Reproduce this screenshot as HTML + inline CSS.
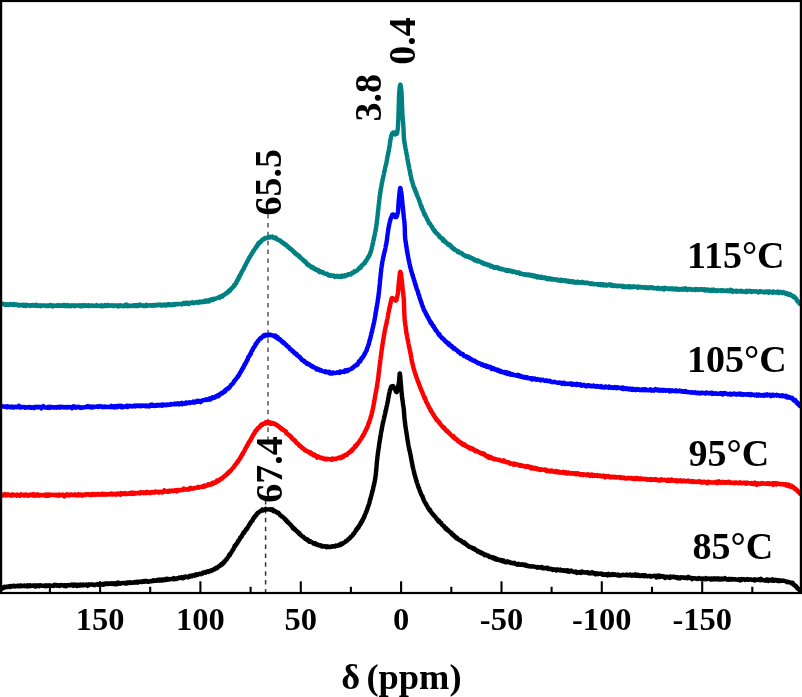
<!DOCTYPE html>
<html><head><meta charset="utf-8"><style>
html,body{margin:0;padding:0;background:#fff;}
svg{display:block;}
text{font-family:"Liberation Serif","Times New Roman",serif;font-weight:bold;fill:#000;}
.tl{font-size:32.5px;}
.big{font-size:38px;}
.ax{font-size:36.4px;}
</style></head><body>
<svg width="802" height="697" viewBox="0 0 802 697" xmlns="http://www.w3.org/2000/svg">
<rect x="0" y="0" width="802" height="697" fill="#fff"/>
<line x1="268" y1="214" x2="268" y2="440" stroke="#555" stroke-width="1.5" stroke-dasharray="4.5 4.4"/>
<line x1="265.6" y1="500" x2="265.6" y2="592" stroke="#333" stroke-width="1.5" stroke-dasharray="4.5 4.4"/>
<path d="M1.5,303.5 2.0,303.8 2.4,303.7 2.9,303.7 3.4,304.0 3.9,303.9 4.4,304.4 4.9,304.9 5.4,304.3 5.9,304.3 6.4,304.7 6.9,304.7 7.4,304.7 7.8,304.3 8.3,304.7 8.8,305.0 9.3,304.3 9.8,304.6 10.3,304.1 10.8,304.4 11.3,304.2 11.8,304.8 12.3,304.4 12.8,305.0 13.3,305.0 13.8,304.9 14.3,304.1 14.8,304.8 15.3,305.0 15.8,305.1 16.3,304.5 16.8,304.9 17.3,304.7 17.8,304.8 18.3,305.5 18.8,304.8 19.3,305.1 19.8,305.5 20.3,305.0 20.8,305.1 21.3,305.2 21.8,305.2 22.3,304.8 22.8,305.3 23.3,305.7 23.8,304.7 24.3,305.6 24.8,305.3 25.3,305.1 25.8,306.0 26.3,305.6 26.8,304.9 27.3,305.4 27.8,305.5 28.3,305.3 28.8,305.6 29.3,305.3 29.8,305.6 30.3,305.9 30.8,305.2 31.3,305.5 31.8,305.3 32.3,305.5 32.8,305.0 33.3,305.3 33.8,305.4 34.3,305.8 34.8,305.9 35.3,305.0 35.8,305.2 36.3,305.7 36.8,304.8 37.3,305.4 37.8,305.5 38.3,306.0 38.8,305.8 39.3,305.5 39.8,305.4 40.3,305.5 40.8,306.1 41.3,305.4 41.8,305.5 42.3,305.7 42.8,305.6 43.3,305.6 43.8,305.2 44.3,305.6 44.8,305.5 45.3,306.1 45.8,305.9 46.3,305.6 46.8,305.9 47.3,305.5 47.8,306.0 48.3,305.7 48.8,305.9 49.3,305.2 49.8,305.8 50.3,305.1 50.8,305.0 51.3,305.6 51.8,305.4 52.3,305.7 52.8,306.5 53.3,305.4 53.8,305.5 54.3,305.8 54.8,305.9 55.3,305.6 55.8,305.6 56.3,305.9 56.8,305.9 57.3,305.3 57.8,305.7 58.3,305.7 58.8,305.3 59.3,305.8 59.8,305.4 60.3,306.0 60.8,305.8 61.3,305.7 61.8,305.5 62.3,305.7 62.8,305.0 63.3,305.3 63.8,305.8 64.3,305.0 64.8,306.0 65.3,305.1 65.8,306.0 66.3,305.4 66.8,306.0 67.3,305.7 67.8,305.2 68.3,306.1 68.8,306.2 69.3,305.7 69.8,305.6 70.3,305.6 70.8,305.4 71.3,306.1 71.8,305.5 72.3,305.7 72.8,305.4 73.3,305.5 73.8,305.3 74.3,306.1 74.8,305.6 75.3,306.0 75.8,305.7 76.3,305.5 76.8,305.6 77.3,305.5 77.8,305.7 78.3,305.6 78.8,305.6 79.3,305.2 79.8,305.4 80.3,306.3 80.8,305.5 81.3,305.3 81.8,305.8 82.3,306.2 82.8,305.2 83.3,305.6 83.8,305.5 84.3,305.1 84.8,305.9 85.3,305.7 85.8,305.7 86.3,305.4 86.8,305.8 87.3,305.5 87.8,305.6 88.3,305.3 88.8,305.2 89.3,306.1 89.8,305.5 90.3,305.8 90.8,305.6 91.3,305.5 91.8,305.5 92.3,305.9 92.8,305.5 93.3,305.6 93.8,305.6 94.3,306.0 94.8,305.9 95.3,305.8 95.8,305.4 96.3,305.1 96.8,306.0 97.3,306.0 97.8,305.6 98.3,305.8 98.8,305.9 99.3,305.9 99.8,305.9 100.3,305.5 100.8,306.2 101.3,305.2 101.8,305.9 102.3,305.8 102.8,305.9 103.3,306.3 103.8,306.1 104.3,305.2 104.8,305.0 105.3,305.9 105.8,305.3 106.3,305.6 106.8,306.0 107.3,305.1 107.8,304.9 108.3,305.8 108.8,305.7 109.3,305.6 109.8,305.7 110.3,305.4 110.8,305.2 111.3,305.7 111.8,305.4 112.3,305.2 112.8,305.9 113.3,305.7 113.8,305.9 114.3,305.4 114.8,305.6 115.3,305.5 115.8,305.5 116.3,305.9 116.8,305.5 117.3,306.0 117.8,306.0 118.3,306.5 118.8,305.4 119.3,306.2 119.8,305.8 120.3,305.8 120.8,305.3 121.3,305.7 121.8,306.1 122.3,305.8 122.8,305.9 123.3,305.7 123.8,306.2 124.3,305.8 124.8,305.1 125.3,305.6 125.8,305.1 126.3,304.7 126.8,305.6 127.3,306.3 127.8,305.8 128.3,305.4 128.8,305.4 129.3,306.1 129.8,305.8 130.3,305.7 130.8,305.7 131.3,305.7 131.8,306.0 132.3,305.9 132.8,305.7 133.3,305.3 133.8,305.8 134.3,305.4 134.8,306.0 135.3,305.2 135.8,305.6 136.3,305.6 136.8,305.1 137.3,306.2 137.8,306.1 138.3,305.4 138.8,305.8 139.3,305.7 139.8,304.6 140.3,305.6 140.8,305.5 141.3,305.5 141.8,305.1 142.3,305.4 142.8,305.4 143.3,305.9 143.8,305.6 144.3,305.4 144.8,306.0 145.3,305.2 145.8,305.3 146.3,304.8 146.8,305.9 147.3,305.7 147.8,305.7 148.3,305.6 148.8,305.4 149.3,305.4 149.8,305.2 150.3,305.2 150.8,305.3 151.3,305.8 151.8,305.5 152.3,305.3 152.8,305.1 153.3,305.0 153.8,305.8 154.3,305.4 154.8,305.2 155.3,305.1 155.8,304.8 156.3,305.2 156.8,305.5 157.3,305.0 157.8,305.1 158.3,305.0 158.8,305.1 159.3,304.5 159.8,305.0 160.3,304.8 160.8,305.4 161.3,304.8 161.8,305.2 162.3,305.5 162.8,304.9 163.3,304.7 163.8,305.0 164.3,304.9 164.8,304.5 165.3,305.0 165.8,305.6 166.3,304.7 166.8,304.7 167.3,304.4 167.8,304.9 168.3,304.3 168.8,304.3 169.3,305.1 169.8,304.3 170.3,305.0 170.8,305.1 171.3,304.6 171.8,304.7 172.3,305.2 172.8,304.4 173.3,304.2 173.8,303.9 174.3,304.4 174.8,304.9 175.3,304.6 175.8,303.9 176.3,303.9 176.8,304.0 177.3,304.3 177.8,304.1 178.3,304.2 178.8,304.1 179.3,303.9 179.8,304.0 180.3,304.0 180.8,303.9 181.3,304.0 181.8,304.5 182.3,304.0 182.8,303.7 183.3,303.1 183.8,303.8 184.3,302.9 184.8,303.0 185.3,303.8 185.8,303.7 186.3,303.3 186.8,302.7 187.2,303.2 187.7,303.0 188.2,303.4 188.7,304.0 189.2,303.2 189.7,302.8 190.2,302.6 190.7,303.0 191.2,302.9 191.7,302.5 192.2,302.9 192.7,302.4 193.2,303.2 193.7,303.1 194.2,303.1 194.7,302.5 195.2,302.8 195.7,302.5 196.2,302.4 196.7,302.4 197.2,302.0 197.7,301.9 198.2,302.6 198.7,302.2 199.2,302.3 199.7,302.5 200.2,301.5 200.7,301.7 201.2,302.0 201.7,302.0 202.2,301.7 202.7,302.1 203.1,301.7 203.6,301.1 204.1,301.2 204.6,301.7 205.1,301.5 205.6,300.5 206.1,301.6 206.6,301.2 207.1,301.4 207.6,300.7 208.0,300.6 208.5,300.2 209.0,301.4 209.5,300.3 210.0,300.8 210.5,299.9 211.0,300.1 211.4,299.3 211.9,299.7 212.4,300.0 212.9,299.1 213.4,299.8 213.9,299.4 214.3,298.8 214.8,298.8 215.3,298.7 215.8,298.7 216.2,298.4 216.7,298.1 217.2,298.1 217.7,297.7 218.1,297.5 218.6,297.7 219.0,297.9 219.5,296.8 219.9,297.2 220.4,296.7 220.8,296.4 221.3,296.8 221.7,296.1 222.2,296.6 222.6,295.6 223.0,295.7 223.5,295.3 223.9,294.8 224.3,295.0 224.7,294.5 225.1,294.5 225.5,294.0 225.9,293.3 226.3,293.4 226.7,293.1 227.1,293.1 227.5,292.2 227.9,292.2 228.3,291.3 228.7,291.8 229.0,290.8 229.4,290.3 229.8,290.5 230.1,290.6 230.5,289.3 230.8,289.1 231.2,288.9 231.5,288.4 231.9,288.6 232.2,287.8 232.5,287.5 232.8,287.5 233.2,286.7 233.5,286.7 233.8,285.8 234.1,285.4 234.4,284.7 234.7,285.6 234.9,284.5 235.2,284.3 235.5,283.7 235.8,283.4 236.0,282.9 236.3,283.2 236.5,281.7 236.8,281.1 237.0,280.9 237.3,280.3 237.5,280.6 237.8,280.2 238.0,279.1 238.2,278.5 238.5,278.5 238.7,278.6 238.9,276.7 239.1,277.4 239.4,276.4 239.6,276.7 239.8,275.5 240.1,275.4 240.3,274.5 240.5,274.2 240.7,274.6 241.0,274.0 241.2,273.1 241.4,272.5 241.7,271.7 241.9,271.8 242.1,271.5 242.3,271.0 242.6,270.5 242.8,269.7 243.0,269.7 243.3,269.2 243.5,269.3 243.7,269.0 244.0,267.9 244.2,267.2 244.4,267.0 244.7,266.4 244.9,265.9 245.1,265.7 245.4,264.9 245.6,265.0 245.8,264.3 246.1,264.0 246.3,263.4 246.5,262.8 246.8,262.3 247.0,262.1 247.3,261.6 247.5,261.4 247.7,260.9 248.0,260.0 248.2,260.0 248.5,259.1 248.7,258.9 248.9,258.6 249.2,257.5 249.4,257.8 249.7,257.4 249.9,256.9 250.2,256.4 250.4,256.0 250.7,255.3 250.9,255.1 251.2,254.6 251.5,254.4 251.7,253.5 252.0,253.6 252.2,253.1 252.5,252.6 252.8,252.1 253.0,252.0 253.3,250.8 253.6,251.1 253.8,250.6 254.1,250.2 254.4,249.8 254.6,249.0 254.9,248.8 255.2,248.7 255.5,248.2 255.7,247.7 256.0,246.7 256.3,247.0 256.6,246.8 256.9,246.3 257.2,245.7 257.5,244.6 257.8,245.1 258.1,244.3 258.4,243.1 258.7,243.8 259.0,242.7 259.3,242.4 259.7,242.3 260.0,242.6 260.3,241.7 260.7,241.5 261.0,241.7 261.4,241.3 261.7,240.4 262.1,240.1 262.5,239.4 262.9,239.4 263.3,239.5 263.7,239.2 264.1,238.9 264.5,239.0 264.9,238.1 265.3,238.2 265.7,238.3 266.2,238.1 266.6,238.1 267.1,237.8 267.5,237.4 268.0,237.5 268.4,237.0 268.9,236.7 269.3,237.5 269.8,237.2 270.3,237.4 270.7,236.7 271.2,237.2 271.7,237.1 272.2,237.1 272.6,236.7 273.1,237.5 273.6,238.0 274.0,238.0 274.5,237.8 274.9,238.1 275.4,238.5 275.8,237.5 276.3,238.6 276.7,239.0 277.2,239.3 277.6,239.8 278.1,239.9 278.5,239.8 278.9,240.0 279.3,240.5 279.8,240.2 280.2,240.7 280.6,241.3 281.0,241.9 281.4,241.5 281.8,241.8 282.2,242.2 282.6,242.9 283.0,242.7 283.4,243.5 283.8,243.0 284.2,243.6 284.6,243.9 285.0,244.5 285.3,244.9 285.7,244.3 286.1,244.9 286.5,245.6 286.9,245.6 287.3,245.6 287.7,246.8 288.0,247.0 288.4,247.3 288.8,247.3 289.2,248.1 289.6,248.0 289.9,248.8 290.3,248.4 290.7,248.7 291.1,249.4 291.5,249.4 291.9,250.3 292.2,250.4 292.6,250.3 293.0,251.0 293.4,251.2 293.7,252.0 294.1,251.8 294.5,252.1 294.9,253.1 295.3,253.7 295.6,254.0 296.0,253.6 296.4,254.0 296.8,254.8 297.1,254.6 297.5,254.6 297.9,255.3 298.3,255.8 298.6,255.6 299.0,255.7 299.4,256.1 299.7,257.2 300.1,257.0 300.5,257.6 300.9,258.0 301.2,258.5 301.6,258.5 302.0,259.1 302.3,259.0 302.7,259.5 303.1,259.6 303.4,260.7 303.8,260.6 304.2,260.7 304.6,261.2 304.9,261.6 305.3,262.2 305.7,261.7 306.0,262.3 306.4,262.8 306.8,264.2 307.2,263.9 307.6,263.9 308.0,264.5 308.3,265.3 308.7,264.8 309.1,265.0 309.5,265.9 309.9,266.0 310.3,266.3 310.7,266.2 311.1,267.3 311.5,267.5 311.9,267.4 312.4,267.7 312.8,267.1 313.2,268.3 313.6,268.2 314.0,268.7 314.5,269.0 314.9,268.9 315.3,268.7 315.8,269.7 316.2,269.5 316.6,269.9 317.1,270.0 317.5,270.4 318.0,269.9 318.4,271.3 318.9,271.2 319.3,271.7 319.8,272.2 320.2,271.8 320.7,271.3 321.1,271.8 321.6,271.9 322.1,272.4 322.5,272.8 323.0,272.2 323.4,273.2 323.9,272.8 324.4,273.6 324.8,273.6 325.3,273.7 325.8,273.9 326.3,273.9 326.7,274.1 327.2,273.8 327.7,274.6 328.2,275.4 328.6,275.5 329.1,275.4 329.6,275.3 330.1,275.0 330.6,275.8 331.0,275.4 331.5,275.5 332.0,275.5 332.5,275.8 333.0,275.7 333.5,275.9 334.0,275.6 334.5,275.9 335.0,276.9 335.5,276.2 335.9,276.1 336.4,276.5 336.9,276.6 337.4,275.9 337.9,276.3 338.4,276.7 338.9,276.5 339.4,276.4 339.9,276.9 340.4,276.1 340.9,276.4 341.4,276.1 341.9,276.8 342.3,275.5 342.8,275.9 343.3,275.9 343.8,276.2 344.3,276.1 344.8,276.3 345.3,275.2 345.7,275.9 346.2,275.4 346.7,275.1 347.2,275.4 347.6,274.8 348.1,274.2 348.6,274.6 349.0,274.1 349.5,274.2 350.0,274.4 350.4,274.2 350.9,274.4 351.3,273.6 351.8,272.9 352.2,273.0 352.7,272.7 353.1,272.4 353.5,272.7 354.0,272.1 354.4,271.4 354.8,272.0 355.2,271.5 355.6,271.4 356.0,271.0 356.4,270.9 356.8,270.4 357.2,270.6 357.6,270.0 358.0,269.6 358.4,269.3 358.8,268.4 359.1,268.5 359.5,268.1 359.9,268.0 360.2,267.1 360.6,267.8 360.9,266.9 361.3,266.1 361.6,265.5 362.0,265.7 362.3,265.4 362.6,264.8 363.0,264.7 363.3,264.1 363.6,264.1 363.9,263.3 364.2,263.1 364.6,263.1 364.9,263.3 365.2,261.6 365.5,261.4 365.8,260.9 366.1,261.1 366.4,260.0 366.7,259.8 367.0,259.6 367.2,258.9 367.5,258.5 367.8,258.2 368.0,257.2 368.3,257.0 368.5,257.0 368.8,256.7 369.0,256.2 369.2,255.2 369.4,255.2 369.6,255.2 369.8,254.7 370.0,254.0 370.2,253.2 370.3,253.3 370.5,252.4 370.7,251.8 370.8,251.4 370.9,251.7 371.1,250.8 371.2,250.7 371.3,249.6 371.5,249.6 371.6,248.6 371.7,248.3 371.8,248.7 371.9,247.6 372.0,246.7 372.1,246.4 372.2,246.0 372.4,245.8 372.5,244.8 372.6,243.8 372.7,243.9 372.8,243.5 372.9,243.0 373.0,243.0 373.1,242.1 373.2,241.8 373.3,240.6 373.4,240.8 373.5,240.8 373.6,239.8 373.7,239.2 373.9,238.6 374.0,238.7 374.1,237.3 374.2,237.1 374.3,236.8 374.4,236.4 374.5,235.5 374.6,235.3 374.7,234.6 374.8,234.2 374.9,233.7 375.0,232.8 375.1,232.7 375.2,232.5 375.3,231.4 375.4,231.2 375.5,231.0 375.6,229.9 375.7,229.8 375.7,228.9 375.8,229.2 375.9,229.1 376.0,228.5 376.1,227.2 376.2,227.1 376.2,226.4 376.3,225.9 376.4,225.9 376.5,224.4 376.5,224.7 376.6,223.8 376.7,223.9 376.7,222.9 376.8,222.1 376.9,222.0 376.9,221.6 377.0,220.9 377.0,220.6 377.1,219.7 377.2,218.6 377.2,219.2 377.3,218.6 377.3,218.0 377.4,217.4 377.5,217.3 377.5,216.3 377.6,215.7 377.6,215.4 377.7,215.3 377.7,213.9 377.8,214.3 377.8,213.2 377.9,212.5 377.9,212.9 378.0,211.9 378.0,211.0 378.1,210.8 378.2,210.8 378.2,210.4 378.3,209.3 378.3,209.1 378.4,208.7 378.4,207.7 378.5,207.6 378.5,207.0 378.6,206.3 378.6,205.8 378.7,205.5 378.7,205.0 378.8,204.3 378.8,203.8 378.9,203.9 378.9,203.1 379.0,202.8 379.1,202.4 379.1,201.7 379.2,201.8 379.2,200.2 379.3,200.3 379.4,199.4 379.4,199.7 379.5,199.1 379.5,197.3 379.6,197.2 379.7,197.3 379.7,196.8 379.8,196.3 379.9,195.5 379.9,195.2 380.0,194.8 380.1,194.0 380.2,193.9 380.2,192.3 380.3,192.8 380.4,191.7 380.5,191.9 380.5,191.0 380.6,190.3 380.7,190.2 380.8,189.3 380.9,188.8 380.9,188.1 381.0,188.1 381.1,187.8 381.2,187.5 381.3,186.6 381.4,186.5 381.5,185.7 381.6,185.2 381.6,184.9 381.7,184.6 381.8,183.6 381.9,183.1 382.0,182.7 382.1,182.3 382.2,181.4 382.3,181.6 382.4,180.6 382.5,180.4 382.6,179.5 382.7,179.4 382.8,178.9 382.9,178.2 383.0,178.5 383.1,177.5 383.2,177.5 383.3,176.7 383.5,175.6 383.6,175.3 383.7,175.1 383.8,174.4 383.9,173.9 384.0,173.3 384.1,172.3 384.2,172.4 384.3,171.2 384.5,171.6 384.6,170.8 384.7,170.3 384.8,170.0 384.9,169.6 385.0,168.6 385.1,168.0 385.2,167.7 385.3,166.9 385.4,166.8 385.5,167.2 385.6,165.8 385.7,165.9 385.9,164.7 386.0,164.8 386.1,164.1 386.2,163.7 386.3,163.4 386.4,163.3 386.5,162.3 386.6,161.8 386.7,160.9 386.7,160.9 386.8,160.2 386.9,160.1 387.0,159.3 387.1,159.4 387.2,157.6 387.3,157.7 387.4,157.6 387.5,156.7 387.6,156.1 387.7,155.7 387.8,154.9 387.9,154.9 388.0,155.2 388.1,154.3 388.2,153.0 388.3,152.6 388.4,152.3 388.5,152.3 388.6,151.1 388.7,150.7 388.8,150.8 388.9,150.3 389.0,149.3 389.1,148.6 389.2,147.9 389.3,147.7 389.3,146.7 389.4,147.3 389.5,146.3 389.6,146.2 389.6,146.2 389.7,145.4 389.8,144.1 389.9,144.3 389.9,143.9 390.0,142.8 390.1,142.2 390.1,142.0 390.2,141.0 390.3,141.6 390.4,139.7 390.4,139.7 390.5,139.5 390.6,139.0 390.7,138.7 390.8,138.2 390.9,137.5 391.0,137.5 391.1,135.9 391.2,136.2 391.4,135.4 391.5,135.3 391.7,134.8 391.9,134.0 392.1,133.6 392.3,133.7 392.6,133.2 393.0,132.6 393.5,133.5 393.9,133.6 394.4,132.5 394.8,133.3 395.2,134.4 395.7,134.0 396.1,134.0 396.5,134.0 396.8,133.7 397.0,133.5 397.1,132.9 397.2,132.9 397.3,132.0 397.4,131.5 397.5,130.7 397.5,130.6 397.6,129.8 397.7,129.6 397.7,129.5 397.8,128.8 397.8,128.3 397.9,127.8 397.9,127.2 398.0,126.6 398.0,126.1 398.0,125.9 398.1,124.8 398.1,125.1 398.1,124.2 398.1,123.4 398.1,123.0 398.2,122.4 398.2,122.2 398.2,121.4 398.2,121.6 398.2,120.4 398.3,119.4 398.3,119.4 398.3,118.5 398.3,118.7 398.3,118.5 398.4,117.9 398.4,116.7 398.4,116.4 398.4,116.8 398.4,115.8 398.5,115.2 398.5,115.0 398.5,115.0 398.5,114.1 398.5,113.2 398.5,112.8 398.6,112.4 398.6,111.5 398.6,110.8 398.6,110.7 398.6,109.9 398.6,109.7 398.7,109.2 398.7,109.5 398.7,107.9 398.7,107.6 398.7,107.1 398.7,106.8 398.7,106.6 398.8,105.5 398.8,104.9 398.8,104.1 398.8,103.9 398.8,103.9 398.8,103.2 398.8,102.3 398.9,102.1 398.9,101.7 398.9,101.4 398.9,100.5 398.9,100.1 398.9,99.1 398.9,98.8 399.0,99.3 399.0,97.4 399.0,97.6 399.0,97.3 399.0,96.6 399.0,95.9 399.1,95.7 399.1,95.2 399.1,94.7 399.1,93.5 399.2,93.6 399.2,92.9 399.2,92.5 399.3,92.3 399.3,91.9 399.3,91.5 399.4,90.5 399.4,90.5 399.5,90.1 399.5,89.6 399.6,89.2 399.6,88.2 399.7,87.7 399.7,87.5 399.8,86.2 399.9,86.3 400.0,85.6 400.1,85.2 400.3,84.6 400.5,85.0 400.6,85.7 400.7,86.5 400.8,87.0 400.9,87.1 400.9,87.6 401.0,87.9 401.1,88.8 401.1,89.1 401.2,89.9 401.2,90.8 401.3,90.6 401.3,90.6 401.4,91.3 401.4,91.6 401.5,92.2 401.5,93.6 401.5,93.7 401.6,93.6 401.6,94.9 401.6,95.6 401.7,95.5 401.7,95.9 401.7,96.5 401.7,97.2 401.8,97.8 401.8,98.5 401.8,99.0 401.8,99.5 401.8,100.1 401.9,100.4 401.9,100.1 401.9,101.1 401.9,101.7 401.9,102.0 401.9,102.9 402.0,103.0 402.0,103.3 402.0,104.6 402.0,104.9 402.0,105.2 402.1,105.9 402.1,106.5 402.1,106.7 402.1,106.3 402.1,107.4 402.1,108.0 402.2,108.3 402.2,109.2 402.2,110.0 402.2,109.9 402.2,110.2 402.3,111.8 402.3,111.5 402.3,111.7 402.3,112.7 402.4,113.3 402.4,113.4 402.4,114.4 402.4,114.4 402.5,114.8 402.5,115.7 402.5,116.4 402.6,116.4 402.6,117.2 402.7,117.6 402.7,119.1 402.7,118.4 402.8,119.6 402.8,119.6 402.9,120.0 402.9,120.8 403.0,121.4 403.0,122.0 403.1,122.2 403.1,122.4 403.2,122.9 403.2,123.8 403.2,124.3 403.3,125.1 403.3,125.2 403.3,125.9 403.4,126.6 403.4,126.6 403.4,126.6 403.5,127.2 403.5,127.6 403.5,129.1 403.5,128.8 403.6,130.0 403.6,130.3 403.6,131.2 403.6,131.4 403.6,131.5 403.7,132.0 403.7,132.6 403.7,133.1 403.7,133.4 403.7,134.1 403.7,135.1 403.8,134.5 403.8,135.7 403.8,135.7 403.8,136.6 403.9,137.4 403.9,137.5 403.9,138.3 404.0,138.0 404.0,139.4 404.1,139.3 404.1,140.3 404.2,140.6 404.3,140.1 404.3,141.3 404.4,142.1 404.5,143.1 404.6,143.1 404.7,143.6 404.8,143.5 404.9,145.0 404.9,145.6 405.0,145.5 405.1,145.9 405.2,145.9 405.3,147.2 405.4,148.4 405.5,148.2 405.6,148.9 405.7,149.1 405.8,149.1 405.9,150.4 405.9,150.0 406.0,150.8 406.1,151.5 406.2,152.2 406.3,152.5 406.4,153.0 406.5,153.1 406.5,153.4 406.6,154.3 406.7,154.6 406.8,154.9 406.9,155.4 407.0,156.1 407.1,156.1 407.1,156.8 407.2,157.2 407.3,158.3 407.4,158.9 407.5,159.9 407.6,159.2 407.7,160.0 407.8,161.0 407.9,161.1 408.0,161.6 408.0,162.8 408.1,162.6 408.2,162.8 408.3,163.2 408.4,164.3 408.5,164.8 408.6,164.7 408.7,165.3 408.8,166.3 408.9,166.8 409.0,166.9 409.1,167.8 409.2,168.3 409.3,167.9 409.4,169.0 409.5,169.7 409.6,169.8 409.7,169.8 409.8,170.9 409.9,171.8 410.0,172.6 410.1,171.7 410.2,173.9 410.3,173.1 410.4,174.3 410.5,174.9 410.6,175.3 410.7,175.5 410.8,175.5 410.9,176.6 411.0,176.6 411.1,176.5 411.2,178.9 411.3,178.6 411.4,179.5 411.6,179.0 411.7,180.3 411.8,180.9 411.9,181.3 412.1,181.3 412.2,181.3 412.3,182.2 412.5,181.9 412.6,182.6 412.8,183.7 412.9,183.8 413.1,184.5 413.2,185.0 413.4,186.2 413.5,186.5 413.7,186.5 413.9,187.4 414.1,187.1 414.2,187.8 414.4,188.7 414.6,188.4 414.8,189.2 415.0,189.3 415.1,190.3 415.3,191.2 415.5,190.9 415.7,191.7 415.9,191.7 416.1,192.1 416.3,192.6 416.5,194.0 416.6,194.7 416.8,194.6 417.0,194.6 417.2,195.6 417.4,195.7 417.5,196.5 417.7,196.8 417.9,197.3 418.1,197.9 418.2,197.9 418.4,198.4 418.6,198.5 418.8,199.4 418.9,199.5 419.1,200.4 419.3,200.6 419.5,201.4 419.6,202.0 419.8,201.8 420.0,202.5 420.1,202.9 420.3,204.0 420.5,204.8 420.7,205.0 420.8,205.0 421.0,206.1 421.2,205.6 421.4,207.1 421.6,206.8 421.7,206.5 421.9,208.9 422.1,209.0 422.3,208.5 422.5,209.4 422.7,209.7 422.9,210.3 423.1,210.2 423.3,210.9 423.5,211.8 423.7,212.2 423.9,213.0 424.1,213.0 424.3,214.3 424.5,213.7 424.7,214.4 424.9,214.1 425.1,214.8 425.4,216.2 425.6,215.8 425.8,216.8 426.0,217.0 426.3,217.1 426.5,217.8 426.7,218.2 427.0,218.6 427.2,219.5 427.4,219.9 427.7,219.9 427.9,220.2 428.2,221.1 428.4,221.4 428.7,222.2 428.9,223.2 429.2,223.0 429.4,223.1 429.7,223.5 430.0,223.7 430.2,224.1 430.5,224.5 430.8,225.1 431.1,225.5 431.3,226.3 431.6,226.4 431.9,226.8 432.2,226.9 432.5,228.3 432.8,228.3 433.0,229.2 433.3,229.2 433.6,229.9 433.9,229.7 434.2,230.4 434.5,231.5 434.8,230.5 435.1,231.7 435.5,232.3 435.8,232.3 436.1,232.8 436.4,233.3 436.7,233.0 437.0,233.8 437.4,233.7 437.7,234.2 438.0,234.5 438.4,235.1 438.7,235.6 439.1,236.0 439.4,235.7 439.7,237.3 440.1,237.3 440.4,237.5 440.8,237.5 441.2,237.9 441.5,238.5 441.9,238.8 442.3,238.4 442.6,239.6 443.0,240.7 443.4,239.3 443.7,240.7 444.1,240.8 444.5,241.0 444.9,241.8 445.2,241.2 445.6,242.0 446.0,242.8 446.4,242.6 446.7,242.8 447.1,243.3 447.5,243.4 447.9,244.5 448.3,243.9 448.7,244.9 449.0,244.4 449.4,245.5 449.8,245.5 450.2,244.9 450.6,246.2 451.0,246.1 451.4,246.6 451.8,247.6 452.1,247.0 452.5,247.3 452.9,248.5 453.3,248.4 453.7,249.2 454.1,249.0 454.5,248.9 454.9,249.5 455.4,250.2 455.8,250.4 456.2,250.3 456.6,250.6 457.0,250.8 457.4,251.0 457.8,252.1 458.3,251.7 458.7,251.5 459.1,252.0 459.5,252.7 460.0,253.0 460.4,252.9 460.8,253.0 461.3,253.5 461.7,253.1 462.2,253.5 462.6,254.5 463.0,254.2 463.5,254.8 463.9,255.3 464.4,255.3 464.8,255.3 465.3,256.3 465.7,256.0 466.2,255.9 466.6,256.5 467.1,256.6 467.5,256.3 468.0,256.9 468.4,257.0 468.9,256.5 469.3,257.4 469.8,257.6 470.2,257.7 470.7,257.5 471.2,258.1 471.6,258.4 472.1,258.7 472.5,258.4 473.0,259.3 473.5,258.8 473.9,259.4 474.4,260.1 474.8,259.6 475.3,259.8 475.8,260.6 476.2,260.3 476.7,260.5 477.1,260.9 477.6,261.4 478.1,260.4 478.5,261.1 479.0,261.2 479.5,261.3 479.9,261.6 480.4,261.8 480.9,262.4 481.3,262.1 481.8,262.7 482.3,262.9 482.7,262.7 483.2,263.2 483.7,263.9 484.1,263.6 484.6,263.4 485.1,263.8 485.5,263.7 486.0,264.3 486.5,264.6 487.0,264.2 487.4,264.6 487.9,265.2 488.4,264.8 488.8,265.2 489.3,265.0 489.8,265.2 490.3,265.5 490.7,266.6 491.2,265.8 491.7,266.0 492.1,266.1 492.6,266.4 493.1,266.9 493.6,266.9 494.0,267.7 494.5,267.2 495.0,267.8 495.5,267.5 495.9,267.8 496.4,267.2 496.9,267.8 497.4,268.0 497.9,268.0 498.3,267.5 498.8,268.7 499.3,268.4 499.8,268.5 500.3,268.7 500.7,268.8 501.2,269.2 501.7,268.7 502.2,269.0 502.7,269.5 503.2,269.6 503.7,269.5 504.1,269.6 504.6,269.6 505.1,270.0 505.6,270.5 506.1,269.9 506.6,270.9 507.1,270.8 507.5,270.4 508.0,271.0 508.5,270.3 509.0,270.3 509.5,270.6 510.0,271.0 510.5,271.1 511.0,271.2 511.4,271.5 511.9,270.8 512.4,271.9 512.9,271.3 513.4,271.7 513.9,271.9 514.4,271.7 514.9,271.7 515.4,272.0 515.8,272.4 516.3,272.7 516.8,272.8 517.3,272.4 517.8,272.6 518.3,272.6 518.8,273.2 519.3,272.5 519.8,273.7 520.2,273.2 520.7,273.2 521.2,273.7 521.7,274.0 522.2,273.9 522.7,274.3 523.2,274.0 523.7,274.5 524.2,274.6 524.6,274.3 525.1,274.9 525.6,274.5 526.1,274.6 526.6,274.4 527.1,274.7 527.6,275.2 528.1,274.5 528.6,275.3 529.1,275.3 529.6,275.4 530.0,274.6 530.5,275.4 531.0,275.8 531.5,275.4 532.0,275.8 532.5,275.0 533.0,276.1 533.5,275.8 534.0,276.4 534.5,275.5 535.0,276.5 535.5,276.3 535.9,276.7 536.4,276.2 536.9,276.4 537.4,277.5 537.9,276.5 538.4,276.6 538.9,276.9 539.4,276.7 539.9,277.5 540.4,277.8 540.9,277.0 541.4,276.8 541.9,277.9 542.3,277.9 542.8,277.9 543.3,278.1 543.8,277.5 544.3,277.8 544.8,277.5 545.3,277.5 545.8,278.5 546.3,278.0 546.8,279.1 547.3,278.4 547.8,278.2 548.3,278.8 548.8,279.2 549.3,278.9 549.7,278.3 550.2,279.0 550.7,279.4 551.2,278.8 551.7,278.8 552.2,279.5 552.7,279.3 553.2,278.9 553.7,279.3 554.2,279.2 554.7,279.7 555.2,279.7 555.7,280.1 556.2,280.0 556.7,279.3 557.2,280.1 557.7,280.3 558.1,280.2 558.6,280.5 559.1,280.0 559.6,279.9 560.1,280.7 560.6,280.0 561.1,279.7 561.6,280.9 562.1,280.3 562.6,280.5 563.1,280.2 563.6,280.3 564.1,280.4 564.6,280.8 565.1,281.1 565.6,280.2 566.1,281.3 566.6,280.7 567.1,280.8 567.6,281.4 568.1,281.2 568.6,280.8 569.1,282.0 569.6,281.1 570.1,281.5 570.6,281.6 571.1,282.0 571.6,281.4 572.1,282.0 572.6,281.4 573.0,282.1 573.5,281.5 574.0,281.7 574.5,282.6 575.0,282.0 575.5,282.0 576.0,282.8 576.5,282.2 577.0,281.8 577.5,282.4 578.0,281.8 578.5,282.7 579.0,282.7 579.5,282.2 580.0,282.2 580.5,282.5 581.0,282.5 581.5,282.2 582.0,282.8 582.5,281.9 583.0,282.6 583.5,282.6 584.0,282.7 584.5,283.0 585.0,282.5 585.5,283.2 586.0,283.0 586.5,282.8 587.0,282.6 587.5,282.8 588.0,283.3 588.5,282.9 589.0,283.3 589.5,283.7 590.0,283.8 590.5,284.0 591.0,283.4 591.5,283.2 592.0,284.0 592.5,283.8 593.0,284.1 593.4,283.8 593.9,284.2 594.4,284.2 594.9,284.2 595.4,284.1 595.9,284.1 596.4,284.1 596.9,284.2 597.4,284.5 597.9,284.0 598.4,284.8 598.9,284.2 599.4,284.7 599.9,284.3 600.4,284.3 600.9,285.2 601.4,284.4 601.9,284.1 602.4,284.3 602.9,284.5 603.4,285.4 603.9,284.8 604.4,285.1 604.9,284.5 605.4,285.0 605.9,285.1 606.4,285.6 606.9,284.7 607.4,285.2 607.9,285.2 608.4,284.7 608.9,285.1 609.4,285.1 609.9,284.4 610.4,285.5 610.9,285.5 611.4,285.2 611.9,284.9 612.4,285.9 612.9,285.6 613.4,285.9 613.9,286.0 614.4,285.4 614.9,285.9 615.4,285.6 615.9,285.7 616.4,285.7 616.9,285.8 617.4,286.2 617.9,285.9 618.4,285.8 618.9,285.8 619.4,286.1 619.9,285.7 620.4,285.8 620.9,286.0 621.4,285.9 621.9,286.1 622.3,285.9 622.8,286.9 623.3,286.7 623.8,286.4 624.3,286.3 624.8,287.1 625.3,286.5 625.8,286.4 626.3,286.5 626.8,286.6 627.3,287.0 627.8,286.5 628.3,287.3 628.8,286.3 629.3,286.9 629.8,286.3 630.3,287.3 630.8,286.6 631.3,286.7 631.8,287.1 632.3,287.3 632.8,286.5 633.3,286.8 633.8,286.4 634.3,287.0 634.8,286.9 635.3,286.9 635.8,286.8 636.3,286.9 636.8,286.8 637.3,287.3 637.8,287.7 638.3,286.5 638.8,287.2 639.3,287.1 639.8,287.4 640.3,287.0 640.8,287.3 641.3,287.0 641.8,287.6 642.3,287.5 642.8,287.4 643.3,287.6 643.8,287.4 644.3,287.0 644.8,287.8 645.3,287.7 645.8,287.5 646.3,288.0 646.8,288.1 647.3,287.3 647.8,287.4 648.3,288.3 648.8,288.2 649.3,287.5 649.8,287.4 650.3,287.6 650.8,287.7 651.3,287.3 651.8,287.9 652.3,287.5 652.8,287.5 653.3,288.3 653.8,287.8 654.3,288.0 654.8,288.3 655.3,288.4 655.8,288.0 656.3,288.1 656.8,287.9 657.3,288.8 657.8,288.4 658.3,287.8 658.8,288.3 659.3,288.5 659.8,288.5 660.3,289.0 660.8,288.8 661.3,288.2 661.8,288.4 662.3,288.0 662.8,288.6 663.3,288.6 663.8,289.5 664.3,288.6 664.8,287.9 665.3,288.4 665.8,288.7 666.3,288.2 666.8,288.4 667.3,288.6 667.8,288.9 668.3,288.7 668.8,288.5 669.3,289.1 669.8,288.7 670.3,288.7 670.8,288.5 671.3,288.7 671.8,289.2 672.3,288.4 672.8,289.0 673.3,289.3 673.8,288.9 674.3,289.2 674.8,288.7 675.3,289.6 675.8,289.5 676.3,289.2 676.8,288.6 677.3,288.8 677.8,289.5 678.3,289.8 678.8,289.3 679.3,289.7 679.8,289.0 680.3,289.2 680.8,289.2 681.3,289.4 681.8,288.7 682.3,289.6 682.8,289.7 683.3,288.8 683.8,288.8 684.3,289.4 684.8,289.0 685.3,288.4 685.8,289.5 686.3,289.3 686.8,289.1 687.3,290.0 687.8,289.3 688.3,289.0 688.8,289.3 689.3,288.9 689.8,289.0 690.3,289.4 690.8,289.1 691.3,289.1 691.8,289.9 692.3,289.6 692.8,289.6 693.3,289.5 693.8,289.5 694.3,289.9 694.8,289.3 695.3,290.0 695.8,289.1 696.3,289.3 696.8,288.9 697.3,289.3 697.8,289.6 698.3,290.0 698.8,289.3 699.3,289.5 699.8,289.4 700.2,289.3 700.7,289.2 701.2,289.7 701.7,289.1 702.2,289.7 702.7,289.7 703.2,289.5 703.7,289.4 704.2,289.3 704.7,290.5 705.2,289.4 705.7,290.4 706.2,290.1 706.7,289.8 707.2,289.5 707.7,290.3 708.2,290.6 708.7,289.7 709.2,289.9 709.7,290.4 710.2,290.2 710.7,290.8 711.2,289.9 711.7,290.4 712.2,289.7 712.7,290.9 713.2,290.0 713.7,289.5 714.2,290.2 714.7,290.2 715.2,291.0 715.7,290.2 716.2,290.4 716.7,290.6 717.2,291.0 717.7,290.4 718.2,290.8 718.7,290.6 719.2,290.4 719.7,290.5 720.2,290.5 720.7,290.2 721.2,291.0 721.7,290.1 722.2,291.0 722.7,291.0 723.2,290.6 723.7,290.4 724.2,290.6 724.7,290.9 725.2,291.0 725.7,290.8 726.2,291.1 726.7,290.6 727.2,290.9 727.7,290.3 728.2,291.1 728.7,290.9 729.2,290.7 729.7,291.3 730.2,291.1 730.7,289.9 731.2,290.9 731.7,290.4 732.2,291.3 732.7,291.9 733.2,290.8 733.7,291.0 734.2,290.9 734.7,291.2 735.2,291.3 735.7,291.5 736.2,290.8 736.7,291.7 737.2,290.8 737.7,291.2 738.2,291.6 738.7,291.4 739.2,290.9 739.7,291.0 740.2,291.1 740.7,291.2 741.2,291.7 741.7,290.8 742.2,291.4 742.7,291.5 743.2,291.5 743.7,291.5 744.2,291.9 744.7,291.5 745.2,291.7 745.7,291.6 746.2,292.0 746.7,290.7 747.2,291.9 747.7,291.3 748.2,291.3 748.7,291.1 749.2,290.8 749.7,291.4 750.2,291.3 750.7,291.7 751.2,291.0 751.7,292.0 752.2,291.6 752.7,291.5 753.2,291.3 753.7,291.3 754.2,291.2 754.7,291.4 755.2,291.6 755.7,291.6 756.2,291.2 756.7,291.6 757.2,291.4 757.7,291.7 758.2,292.4 758.7,291.9 759.2,291.6 759.7,291.2 760.2,291.3 760.7,291.2 761.2,292.0 761.7,291.5 762.2,291.8 762.7,291.6 763.2,291.9 763.7,292.3 764.2,291.6 764.7,291.7 765.2,291.6 765.7,292.2 766.2,291.5 766.7,291.5 767.2,291.4 767.7,291.4 768.2,292.1 768.7,292.9 769.2,291.6 769.7,292.3 770.2,292.1 770.7,291.6 771.2,291.9 771.7,292.0 772.2,291.8 772.7,292.8 773.2,291.4 773.7,292.2 774.2,292.2 774.7,291.9 775.2,292.2 775.7,292.5 776.2,292.3 776.7,292.4 777.2,292.5 777.7,291.6 778.2,292.8 778.7,293.1 779.2,292.7 779.7,292.8 780.2,291.9 780.7,292.4 781.2,292.2 781.7,292.4 782.2,293.0 782.6,292.4 783.1,292.7 783.6,292.2 784.1,292.9 784.6,293.1 785.1,292.9 785.5,293.0 786.0,294.0 786.5,293.1 787.0,293.3 787.4,293.5 787.9,294.3 788.4,294.8 788.8,294.3 789.3,294.1 789.8,294.3 790.2,295.0 790.7,294.5 791.1,295.5 791.6,295.7 792.0,295.5 792.4,295.9 792.9,296.3 793.3,296.8 793.7,296.2 794.0,297.3 794.4,297.1 794.8,297.3 795.1,298.0 795.5,298.2 795.8,298.3 796.1,298.5 796.4,299.1 796.8,300.3 797.1,300.9 797.4,300.8 797.7,301.4 798.0,301.2 798.3,301.8 798.6,302.3 798.8,302.3 799.1,302.7 799.4,303.5 799.6,303.8 799.9,304.0" fill="none" stroke="#008080" stroke-width="4.4" stroke-linejoin="round" stroke-linecap="round"/>
<path d="M1.5,406.1 2.0,406.0 2.5,406.6 2.9,406.4 3.4,406.4 3.9,406.7 4.4,406.6 4.9,406.5 5.4,406.6 5.9,407.1 6.4,407.0 6.9,407.3 7.4,406.3 7.9,406.7 8.4,406.7 8.9,407.0 9.4,406.8 9.9,406.8 10.4,407.2 10.9,407.0 11.4,406.6 11.9,407.5 12.4,407.4 12.9,406.8 13.4,407.3 13.9,406.8 14.4,407.4 14.9,407.0 15.4,406.8 15.9,407.0 16.4,406.8 16.9,407.2 17.4,407.2 17.9,407.1 18.4,406.9 18.9,405.8 19.4,407.2 19.9,406.5 20.4,407.2 20.9,407.5 21.4,407.3 21.9,407.0 22.4,407.1 22.9,407.1 23.4,407.0 23.9,407.0 24.4,406.9 24.9,407.6 25.4,407.2 25.9,407.5 26.4,407.1 26.9,407.2 27.4,407.1 27.9,407.4 28.4,407.5 28.9,407.3 29.4,407.0 29.9,406.9 30.4,407.8 30.9,407.1 31.4,407.1 31.9,407.7 32.4,407.6 32.9,407.4 33.4,407.1 33.9,408.1 34.4,407.4 34.9,407.4 35.4,407.2 35.9,406.8 36.4,406.8 36.9,407.4 37.4,407.4 37.9,407.2 38.4,406.9 38.9,406.8 39.4,407.2 39.9,406.8 40.4,407.6 40.9,407.7 41.4,408.3 41.9,407.6 42.4,407.1 42.9,407.0 43.4,406.1 43.9,407.1 44.4,407.2 44.9,407.6 45.4,407.5 45.9,407.5 46.4,407.4 46.9,407.5 47.4,407.8 47.9,406.9 48.4,407.1 48.9,406.8 49.4,407.9 49.9,407.7 50.4,407.6 50.9,406.9 51.4,407.4 51.9,407.2 52.4,407.3 52.9,407.2 53.4,407.5 53.9,407.2 54.4,407.6 54.9,407.4 55.4,407.2 55.9,407.3 56.4,407.1 56.9,407.6 57.4,407.2 57.9,407.4 58.4,407.2 58.9,406.8 59.4,407.6 59.9,406.9 60.4,407.5 60.9,407.4 61.4,406.7 61.9,406.9 62.4,407.1 62.9,407.0 63.4,406.9 63.9,407.5 64.4,407.2 64.9,407.4 65.4,407.1 65.9,407.4 66.4,407.0 66.9,407.3 67.4,407.5 67.9,407.3 68.4,407.1 68.9,406.9 69.4,407.3 69.9,407.4 70.4,407.2 70.9,407.0 71.4,407.4 71.9,408.1 72.4,407.1 72.9,407.3 73.4,407.4 73.9,406.3 74.4,407.3 74.9,407.0 75.4,407.7 75.9,407.1 76.4,406.9 76.9,407.1 77.4,407.3 77.9,407.0 78.4,407.2 78.9,406.7 79.4,407.1 79.9,407.4 80.4,407.9 80.9,407.4 81.4,407.2 81.9,407.6 82.4,407.5 82.9,407.7 83.4,407.5 83.9,407.1 84.4,407.2 84.9,407.2 85.4,407.2 85.9,407.1 86.4,406.8 86.9,406.3 87.4,406.8 87.9,406.3 88.4,407.1 88.9,407.0 89.4,406.4 89.9,407.2 90.4,407.3 90.9,407.0 91.4,407.5 91.9,407.6 92.4,406.5 92.9,407.3 93.4,407.1 93.9,407.1 94.4,407.2 94.9,406.6 95.4,406.7 95.9,406.6 96.4,406.6 96.9,406.8 97.4,406.3 97.9,406.5 98.4,407.0 98.9,406.8 99.4,406.9 99.9,406.1 100.4,406.5 100.9,406.6 101.4,406.8 101.9,406.5 102.4,407.1 102.9,406.7 103.4,406.7 103.9,406.7 104.4,407.0 104.9,406.5 105.4,407.1 105.9,406.9 106.4,406.8 106.9,406.7 107.4,406.9 107.9,407.0 108.4,407.0 108.9,406.8 109.4,407.0 109.9,406.7 110.4,407.1 110.9,406.7 111.4,405.9 111.9,407.1 112.4,406.7 112.9,406.2 113.4,406.6 113.9,406.3 114.4,407.4 114.9,406.8 115.4,406.1 115.9,406.8 116.4,406.5 116.9,407.3 117.4,406.2 117.9,405.8 118.4,406.6 118.9,406.5 119.4,406.4 119.9,405.8 120.4,406.7 120.9,407.1 121.4,405.9 121.9,406.9 122.4,406.3 122.9,407.3 123.4,406.6 123.9,406.4 124.4,406.8 124.9,406.6 125.4,406.2 125.9,406.6 126.4,406.2 126.9,405.7 127.4,407.1 127.9,406.2 128.4,406.1 128.9,406.4 129.4,405.7 129.9,405.8 130.4,406.0 130.9,406.0 131.4,406.2 131.9,406.5 132.4,406.0 132.9,406.3 133.4,406.3 133.9,405.7 134.4,406.1 134.9,405.7 135.4,406.4 135.9,406.1 136.4,406.0 136.9,405.5 137.4,406.0 137.9,405.6 138.4,406.1 138.9,405.8 139.4,405.6 139.9,406.2 140.4,406.1 140.9,405.6 141.4,406.2 141.9,405.7 142.4,405.6 142.9,405.8 143.4,405.5 143.9,405.6 144.4,405.6 144.9,406.2 145.4,406.2 145.9,405.6 146.4,406.2 146.9,405.6 147.4,405.8 147.9,405.9 148.4,405.7 148.9,406.4 149.4,405.7 149.9,405.1 150.4,406.0 150.9,405.4 151.4,405.4 151.9,404.5 152.4,405.9 152.9,405.8 153.4,405.8 153.9,405.8 154.4,406.0 154.9,405.4 155.4,405.7 155.9,405.1 156.4,405.3 156.9,405.7 157.4,405.5 157.9,404.9 158.4,405.4 158.9,405.2 159.4,405.0 159.9,405.4 160.4,405.1 160.9,404.7 161.4,404.8 161.9,405.8 162.4,404.6 162.9,405.2 163.4,405.3 163.9,405.3 164.4,404.6 164.9,404.9 165.4,405.0 165.9,405.2 166.4,404.6 166.8,404.4 167.3,405.1 167.8,405.1 168.3,404.8 168.8,404.4 169.3,404.8 169.8,404.6 170.3,404.8 170.8,404.0 171.3,404.5 171.8,404.3 172.3,404.0 172.8,404.4 173.3,404.3 173.8,404.1 174.3,404.3 174.8,403.6 175.3,404.0 175.8,404.2 176.3,404.1 176.8,404.3 177.3,403.4 177.8,403.3 178.3,403.8 178.8,403.9 179.3,404.4 179.8,403.8 180.3,403.3 180.8,403.8 181.3,403.2 181.8,402.9 182.3,404.3 182.8,403.4 183.3,403.5 183.8,403.4 184.3,403.8 184.8,403.2 185.3,403.5 185.8,402.6 186.3,402.4 186.8,403.4 187.2,403.3 187.7,402.9 188.2,402.8 188.7,402.7 189.2,402.3 189.7,403.0 190.2,402.7 190.7,402.6 191.2,402.4 191.7,402.6 192.2,402.4 192.7,402.4 193.2,401.6 193.7,402.2 194.2,402.7 194.7,401.7 195.2,401.7 195.7,402.0 196.2,402.0 196.7,401.8 197.2,400.9 197.7,401.6 198.1,400.9 198.6,401.0 199.1,401.4 199.6,401.0 200.1,401.3 200.6,402.1 201.1,401.1 201.6,401.0 202.1,400.4 202.6,400.4 203.1,400.1 203.6,400.2 204.1,400.0 204.5,400.0 205.0,400.1 205.5,399.7 206.0,399.4 206.5,399.3 207.0,399.9 207.5,399.6 207.9,399.8 208.4,399.7 208.9,399.1 209.4,399.3 209.9,398.4 210.3,399.6 210.8,399.0 211.3,398.4 211.8,397.9 212.2,398.3 212.7,397.3 213.1,397.5 213.6,397.9 214.1,397.4 214.5,397.1 215.0,397.4 215.4,396.5 215.9,396.7 216.3,396.2 216.8,395.9 217.2,396.1 217.7,395.4 218.1,396.2 218.5,395.1 219.0,395.7 219.4,394.4 219.8,394.7 220.3,393.8 220.7,393.5 221.1,393.8 221.5,393.7 221.9,392.7 222.4,393.3 222.8,392.4 223.2,392.4 223.6,392.2 224.0,392.0 224.4,390.8 224.8,391.7 225.2,391.1 225.6,390.4 225.9,389.9 226.3,389.3 226.7,389.1 227.1,389.5 227.5,388.8 227.8,388.2 228.2,388.1 228.6,388.5 228.9,387.5 229.3,387.0 229.6,387.4 230.0,386.7 230.3,386.2 230.7,385.6 231.0,384.9 231.3,384.7 231.7,384.6 232.0,384.3 232.3,384.1 232.6,383.8 233.0,383.3 233.3,382.9 233.6,382.1 233.9,381.3 234.2,381.5 234.5,380.9 234.8,380.6 235.1,380.4 235.4,379.6 235.7,379.3 236.0,379.2 236.3,378.9 236.6,378.2 236.8,378.2 237.1,377.5 237.4,376.8 237.7,376.8 237.9,377.0 238.2,375.7 238.5,375.9 238.7,375.6 239.0,375.2 239.3,374.0 239.5,374.5 239.8,373.4 240.1,372.9 240.3,372.5 240.6,372.3 240.8,371.7 241.1,371.2 241.3,371.3 241.6,370.1 241.8,369.6 242.1,369.8 242.3,369.3 242.6,369.0 242.8,367.8 243.1,368.2 243.3,367.5 243.6,367.5 243.8,366.0 244.0,366.1 244.3,365.5 244.5,364.6 244.8,364.5 245.0,364.7 245.2,363.7 245.5,363.1 245.7,363.3 245.9,362.9 246.2,362.4 246.4,361.3 246.6,361.2 246.9,361.1 247.1,360.1 247.3,359.6 247.6,359.7 247.8,359.5 248.0,358.1 248.2,357.2 248.5,357.1 248.7,356.8 248.9,356.7 249.2,356.5 249.4,355.8 249.6,355.2 249.9,355.0 250.1,354.2 250.3,354.1 250.6,353.4 250.8,354.1 251.0,353.0 251.3,352.0 251.5,351.5 251.7,351.3 252.0,350.4 252.2,350.3 252.5,349.9 252.7,350.0 252.9,349.1 253.2,348.5 253.4,347.9 253.7,347.5 253.9,347.5 254.2,347.0 254.4,347.0 254.7,346.0 254.9,346.1 255.2,345.4 255.4,344.9 255.7,343.8 255.9,343.6 256.2,343.9 256.5,343.7 256.7,342.9 257.0,342.7 257.3,341.9 257.6,341.5 257.9,341.0 258.2,341.2 258.5,340.6 258.8,340.0 259.1,339.6 259.4,339.5 259.8,339.1 260.1,338.3 260.4,338.9 260.8,338.1 261.2,337.7 261.5,337.9 261.9,337.5 262.3,336.8 262.7,336.8 263.1,336.0 263.5,335.9 263.9,335.2 264.3,336.2 264.8,334.9 265.2,335.7 265.7,335.0 266.1,334.8 266.6,335.0 267.0,335.1 267.5,335.2 267.9,335.5 268.4,335.0 268.9,335.2 269.3,334.7 269.8,335.1 270.3,335.0 270.7,334.8 271.2,335.0 271.6,335.2 272.1,335.4 272.5,335.6 273.0,335.4 273.4,335.4 273.9,336.1 274.3,335.5 274.8,336.0 275.2,337.0 275.6,335.7 276.0,336.7 276.4,337.4 276.9,336.9 277.3,338.6 277.7,337.1 278.1,338.8 278.5,339.1 278.9,339.2 279.2,339.1 279.6,339.6 280.0,339.4 280.4,340.3 280.8,340.0 281.2,340.6 281.5,341.4 281.9,341.0 282.3,341.5 282.7,342.1 283.1,341.9 283.4,343.1 283.8,343.1 284.2,342.8 284.6,343.6 284.9,343.7 285.3,344.1 285.7,344.7 286.0,344.7 286.4,345.6 286.8,345.4 287.2,346.3 287.5,346.3 287.9,346.9 288.3,346.8 288.7,347.1 289.0,347.2 289.4,348.2 289.8,348.6 290.1,349.4 290.5,349.4 290.9,349.4 291.2,349.6 291.6,350.1 292.0,350.3 292.3,351.2 292.7,351.3 293.1,351.1 293.5,351.5 293.8,352.5 294.2,352.5 294.6,352.6 294.9,353.5 295.3,353.3 295.7,353.6 296.0,353.9 296.4,353.7 296.8,355.0 297.1,354.7 297.5,355.2 297.9,355.5 298.2,356.3 298.6,356.4 299.0,356.8 299.4,356.5 299.7,357.4 300.1,357.2 300.5,358.2 300.9,358.5 301.2,358.7 301.6,359.8 302.0,359.6 302.4,359.9 302.8,360.1 303.1,360.3 303.5,361.0 303.9,361.4 304.3,360.8 304.7,362.0 305.1,362.1 305.5,362.5 305.9,362.7 306.3,362.4 306.7,362.7 307.1,364.0 307.5,363.8 307.9,363.5 308.3,364.4 308.7,364.4 309.2,364.1 309.6,364.3 310.0,364.8 310.4,365.7 310.8,365.8 311.3,366.0 311.7,366.4 312.1,366.8 312.6,366.1 313.0,367.0 313.4,367.0 313.9,367.1 314.3,367.6 314.8,367.9 315.2,368.1 315.7,367.9 316.1,368.4 316.6,369.5 317.1,368.6 317.5,368.6 318.0,369.5 318.4,369.8 318.9,369.9 319.4,369.5 319.8,370.4 320.3,370.0 320.8,370.0 321.2,370.3 321.7,370.7 322.2,371.1 322.7,371.2 323.1,371.2 323.6,371.6 324.1,371.5 324.6,371.9 325.1,371.2 325.5,371.3 326.0,372.2 326.5,371.6 327.0,372.0 327.5,372.2 328.0,372.2 328.4,372.3 328.9,373.0 329.4,371.7 329.9,372.9 330.4,373.5 330.9,372.7 331.4,372.8 331.9,373.1 332.4,373.5 332.8,372.4 333.3,372.9 333.8,372.8 334.3,373.0 334.8,372.9 335.3,373.0 335.8,372.6 336.3,372.8 336.8,372.5 337.3,372.4 337.8,372.5 338.3,372.5 338.8,372.1 339.3,372.9 339.7,372.3 340.2,371.7 340.7,372.5 341.2,371.8 341.7,372.1 342.2,371.8 342.7,371.8 343.1,371.7 343.6,371.3 344.1,371.4 344.6,371.9 345.1,370.3 345.5,371.0 346.0,371.0 346.5,370.3 346.9,370.0 347.4,371.1 347.9,370.0 348.3,370.7 348.8,370.0 349.2,369.6 349.7,369.6 350.1,369.4 350.6,369.4 351.0,368.9 351.4,368.5 351.8,368.3 352.3,368.5 352.7,368.0 353.1,367.1 353.5,367.0 353.9,367.0 354.3,366.4 354.7,366.2 355.1,365.7 355.4,365.6 355.8,365.5 356.2,365.4 356.5,364.7 356.9,365.1 357.2,364.0 357.6,364.8 357.9,363.6 358.3,363.1 358.6,362.4 358.9,361.2 359.3,361.8 359.6,361.5 359.9,361.7 360.2,360.2 360.5,361.0 360.8,359.8 361.1,359.7 361.4,358.2 361.7,358.7 362.0,358.2 362.3,358.1 362.6,357.5 362.8,356.7 363.1,357.0 363.4,356.5 363.6,356.0 363.9,355.7 364.1,355.3 364.4,354.5 364.6,353.6 364.9,353.1 365.1,353.7 365.3,353.0 365.5,352.3 365.7,351.7 366.0,351.4 366.2,351.0 366.4,350.4 366.6,349.8 366.8,350.3 366.9,349.2 367.1,348.4 367.3,347.7 367.5,347.5 367.6,347.5 367.8,347.1 368.0,346.2 368.1,345.9 368.3,345.3 368.4,344.5 368.6,344.9 368.7,344.1 368.9,344.3 369.0,342.7 369.1,342.5 369.3,342.3 369.4,341.5 369.5,340.6 369.6,340.2 369.8,340.1 369.9,339.7 370.0,339.1 370.1,339.0 370.3,338.5 370.4,337.8 370.5,337.2 370.6,336.6 370.7,336.4 370.9,336.0 371.0,335.3 371.1,334.9 371.2,334.2 371.3,333.3 371.5,332.9 371.6,333.1 371.7,332.5 371.8,332.4 371.9,331.4 372.0,331.2 372.2,330.8 372.3,330.2 372.4,329.2 372.5,328.9 372.6,328.5 372.7,327.6 372.8,327.6 373.0,327.3 373.1,326.3 373.2,326.7 373.3,325.4 373.4,325.0 373.5,324.5 373.6,323.8 373.7,323.7 373.8,323.1 374.0,323.2 374.1,322.3 374.2,321.8 374.3,321.0 374.4,320.1 374.5,320.1 374.6,319.4 374.6,319.5 374.7,318.7 374.8,318.8 374.9,317.9 375.0,317.5 375.1,316.8 375.2,316.3 375.3,315.9 375.3,315.6 375.4,314.5 375.5,314.4 375.6,314.7 375.6,313.2 375.7,312.7 375.8,312.0 375.9,311.3 376.0,311.7 376.0,310.8 376.1,310.4 376.2,310.5 376.3,310.2 376.4,308.5 376.5,308.7 376.5,308.1 376.6,307.5 376.7,307.0 376.8,306.4 376.9,306.4 377.0,305.6 377.1,305.0 377.1,304.8 377.2,304.2 377.3,303.6 377.4,303.0 377.5,303.0 377.6,302.1 377.7,301.4 377.7,300.6 377.8,300.3 377.9,299.6 378.0,299.5 378.0,299.1 378.1,297.8 378.2,298.0 378.3,297.7 378.3,297.1 378.4,296.2 378.5,296.4 378.5,295.3 378.6,294.6 378.7,294.1 378.7,294.0 378.8,293.9 378.8,293.4 378.9,292.6 379.0,291.6 379.0,291.3 379.1,290.7 379.1,290.5 379.2,289.4 379.2,289.6 379.3,289.3 379.3,288.5 379.4,288.2 379.4,287.2 379.5,286.6 379.5,286.3 379.6,286.5 379.6,285.9 379.7,284.9 379.7,285.0 379.8,284.0 379.8,284.1 379.8,283.2 379.9,282.4 379.9,282.4 380.0,281.3 380.0,280.8 380.1,280.1 380.1,280.2 380.2,279.6 380.2,279.1 380.3,278.5 380.3,278.6 380.4,277.5 380.4,276.9 380.5,277.0 380.5,276.6 380.6,275.7 380.6,274.5 380.7,274.4 380.7,274.3 380.8,273.6 380.8,273.7 380.9,272.2 380.9,272.4 381.0,271.4 381.1,271.6 381.1,270.6 381.2,270.5 381.2,269.4 381.3,268.7 381.4,268.3 381.4,268.0 381.5,267.3 381.6,267.6 381.6,267.1 381.7,266.3 381.8,265.3 381.8,265.2 381.9,264.5 382.0,264.7 382.1,263.8 382.2,263.4 382.2,262.6 382.3,261.5 382.4,261.5 382.5,260.9 382.6,260.9 382.7,260.3 382.8,259.5 382.9,259.2 383.0,259.3 383.1,258.0 383.2,257.5 383.3,257.3 383.4,256.6 383.5,256.2 383.6,256.1 383.7,256.0 383.8,254.3 384.0,254.4 384.1,253.9 384.2,253.4 384.3,252.9 384.4,252.4 384.5,252.3 384.7,251.3 384.8,251.0 384.9,250.5 385.0,250.1 385.1,249.5 385.2,249.4 385.3,248.6 385.4,248.2 385.5,247.6 385.6,246.8 385.7,246.3 385.8,245.8 385.9,245.7 386.0,244.9 386.1,244.3 386.2,244.3 386.3,243.9 386.4,242.6 386.5,243.3 386.5,242.2 386.6,241.7 386.7,241.6 386.8,240.7 386.8,240.0 386.9,240.5 387.0,238.9 387.0,238.7 387.1,238.5 387.1,237.4 387.2,237.2 387.3,236.9 387.3,237.1 387.4,235.5 387.5,235.3 387.5,235.0 387.6,234.3 387.6,233.4 387.7,233.4 387.8,232.8 387.9,232.5 387.9,232.2 388.0,231.7 388.1,231.0 388.2,230.4 388.2,229.5 388.3,229.3 388.4,228.9 388.5,228.2 388.6,227.9 388.6,227.1 388.7,227.4 388.8,227.1 388.9,225.8 389.0,225.6 389.1,224.8 389.2,224.9 389.3,224.1 389.4,223.5 389.6,222.9 389.7,222.5 389.8,221.7 389.9,221.8 390.0,220.8 390.2,220.7 390.3,220.1 390.4,220.0 390.6,219.1 390.7,219.0 390.9,217.8 391.1,217.9 391.3,217.2 391.5,216.9 391.7,216.4 392.0,216.2 392.2,214.8 392.6,215.4 393.0,214.6 393.5,215.7 393.9,214.8 394.3,215.4 394.7,215.4 395.1,217.0 395.4,216.3 395.7,217.1 396.1,217.0 396.4,216.5 396.6,216.7 396.8,216.6 396.9,215.8 397.1,215.7 397.2,214.8 397.3,214.4 397.4,213.8 397.5,213.6 397.7,213.6 397.8,212.6 397.9,212.1 398.0,211.3 398.0,210.8 398.1,211.0 398.2,209.6 398.2,209.2 398.2,209.0 398.2,208.4 398.3,208.7 398.3,206.7 398.3,207.2 398.3,206.8 398.4,205.6 398.4,205.3 398.4,205.2 398.4,205.1 398.5,203.7 398.5,203.0 398.5,203.4 398.6,203.1 398.6,201.9 398.7,200.8 398.7,201.5 398.8,200.5 398.8,200.4 398.8,199.5 398.9,198.9 399.0,198.4 399.0,198.6 399.1,198.1 399.1,196.3 399.2,196.2 399.2,196.7 399.3,195.4 399.3,194.6 399.4,194.6 399.4,194.0 399.5,193.5 399.5,192.9 399.6,192.5 399.6,191.9 399.7,191.7 399.7,190.8 399.8,190.5 399.8,190.0 399.9,190.1 399.9,189.2 400.0,188.6 400.1,188.4 400.2,188.0 400.4,188.2 400.6,188.3 400.7,189.2 400.8,189.5 400.9,189.5 400.9,189.9 401.0,190.8 401.1,191.2 401.1,191.5 401.2,191.5 401.2,191.9 401.3,193.1 401.4,193.8 401.4,194.3 401.5,194.0 401.5,195.3 401.6,195.3 401.7,196.1 401.7,196.6 401.8,196.7 401.8,197.3 401.9,197.2 401.9,198.1 402.0,198.3 402.1,199.6 402.1,200.0 402.2,200.8 402.2,201.1 402.3,201.2 402.3,202.1 402.3,202.3 402.4,203.1 402.4,203.5 402.5,203.6 402.5,204.4 402.6,204.9 402.6,205.3 402.7,206.2 402.7,207.0 402.8,206.8 402.8,207.3 402.9,207.1 402.9,208.4 403.0,208.7 403.0,208.6 403.1,210.0 403.1,210.6 403.2,210.6 403.2,211.3 403.3,211.5 403.3,212.6 403.4,212.3 403.4,213.3 403.5,214.6 403.6,214.4 403.6,215.0 403.7,215.3 403.7,215.5 403.7,216.3 403.8,217.0 403.8,217.0 403.9,218.0 404.0,218.8 404.0,219.2 404.1,218.8 404.1,219.5 404.2,219.8 404.3,221.2 404.3,221.5 404.4,222.1 404.4,222.0 404.5,222.4 404.5,223.3 404.5,223.9 404.6,224.0 404.6,224.9 404.6,225.5 404.7,225.9 404.7,225.9 404.7,226.1 404.7,227.2 404.8,227.9 404.8,228.2 404.8,228.7 404.8,229.1 404.8,230.1 404.8,230.3 404.8,230.8 404.8,231.0 404.9,231.6 404.9,232.4 404.9,232.5 404.9,232.9 404.9,233.7 404.9,234.7 404.9,234.9 405.0,235.8 405.0,235.8 405.0,236.2 405.1,236.3 405.1,237.1 405.1,238.3 405.2,238.4 405.2,239.0 405.3,239.5 405.4,239.8 405.4,240.2 405.5,240.8 405.6,241.5 405.6,241.9 405.7,242.4 405.8,242.8 405.9,243.0 405.9,243.6 406.0,243.9 406.1,245.1 406.2,244.5 406.2,245.6 406.3,247.0 406.4,246.6 406.5,246.8 406.6,247.7 406.6,248.6 406.7,248.6 406.8,249.4 406.9,249.7 407.0,250.0 407.0,251.7 407.1,251.2 407.2,251.4 407.3,252.0 407.4,252.8 407.5,253.3 407.5,253.9 407.6,254.1 407.7,254.1 407.8,255.3 407.9,255.5 408.0,256.0 408.1,256.0 408.1,256.8 408.2,257.3 408.3,258.0 408.4,258.0 408.5,259.0 408.6,259.5 408.7,259.6 408.8,260.3 408.9,260.7 409.0,261.8 409.1,261.1 409.2,262.3 409.3,262.4 409.4,263.3 409.5,264.2 409.6,264.2 409.8,264.9 409.9,265.1 410.0,266.5 410.1,266.7 410.2,267.2 410.3,266.8 410.5,267.4 410.6,268.7 410.7,268.7 410.8,269.2 411.0,269.8 411.1,269.8 411.2,271.0 411.4,271.2 411.5,271.8 411.7,271.9 411.8,272.8 411.9,272.8 412.1,273.9 412.2,274.4 412.4,274.8 412.5,275.2 412.7,275.7 412.8,275.0 413.0,276.7 413.1,276.8 413.2,277.4 413.4,277.8 413.5,277.9 413.7,278.6 413.8,279.5 414.0,280.3 414.1,280.0 414.3,280.4 414.4,281.7 414.6,281.4 414.7,282.9 414.9,282.7 415.0,282.8 415.2,283.9 415.3,284.7 415.5,284.1 415.6,285.6 415.8,285.4 415.9,286.5 416.1,286.3 416.2,286.4 416.4,287.6 416.5,288.2 416.7,289.1 416.8,289.4 417.0,289.6 417.1,289.7 417.3,290.1 417.4,290.6 417.6,290.9 417.8,291.6 417.9,291.3 418.1,292.7 418.2,293.1 418.4,294.5 418.5,294.3 418.7,294.4 418.8,295.2 419.0,295.1 419.1,295.8 419.3,295.8 419.4,297.4 419.6,297.6 419.7,297.5 419.9,298.3 420.1,299.2 420.2,299.5 420.4,299.9 420.5,300.0 420.7,300.5 420.8,301.2 421.0,302.0 421.2,301.9 421.3,302.2 421.5,303.5 421.7,303.2 421.8,304.4 422.0,304.6 422.2,305.3 422.3,306.1 422.5,306.1 422.7,306.6 422.9,306.5 423.1,307.1 423.3,308.0 423.5,308.8 423.6,309.2 423.8,310.0 424.0,309.7 424.2,310.1 424.4,310.9 424.7,311.0 424.9,311.4 425.1,311.5 425.3,312.7 425.5,312.4 425.7,313.4 425.9,313.2 426.2,314.5 426.4,314.2 426.6,315.3 426.8,314.9 427.1,315.8 427.3,316.8 427.5,316.5 427.8,317.3 428.0,317.5 428.2,317.3 428.5,318.7 428.7,319.1 429.0,319.0 429.2,320.1 429.5,320.0 429.7,320.4 430.0,321.2 430.2,321.3 430.5,322.8 430.7,321.9 431.0,323.1 431.3,323.6 431.5,323.0 431.8,323.5 432.1,324.7 432.3,324.8 432.6,325.5 432.9,326.2 433.2,326.1 433.4,326.3 433.7,326.1 434.0,327.5 434.3,327.5 434.6,328.4 434.8,328.8 435.1,328.6 435.4,330.1 435.7,330.3 436.0,330.6 436.3,330.3 436.5,331.0 436.8,331.4 437.1,331.8 437.4,332.0 437.7,332.9 438.0,333.3 438.3,333.7 438.6,333.8 438.9,334.8 439.2,334.8 439.5,334.2 439.8,335.3 440.1,335.9 440.5,336.6 440.8,336.5 441.1,336.9 441.5,337.1 441.8,338.0 442.2,337.9 442.5,338.2 442.9,338.5 443.2,339.3 443.6,339.3 443.9,339.2 444.3,340.4 444.7,340.2 445.0,340.9 445.4,341.3 445.8,341.9 446.1,342.2 446.5,341.9 446.9,342.4 447.3,342.4 447.7,343.7 448.0,343.6 448.4,344.3 448.8,344.0 449.2,343.7 449.6,345.3 449.9,345.1 450.3,345.4 450.7,345.7 451.1,346.3 451.5,346.5 451.9,346.1 452.3,347.4 452.6,347.1 453.0,347.4 453.4,348.5 453.8,348.6 454.2,348.4 454.6,348.2 455.0,349.2 455.4,349.6 455.8,349.7 456.2,349.6 456.6,350.1 457.0,350.2 457.4,351.0 457.8,351.5 458.2,351.9 458.6,351.6 459.0,352.2 459.4,352.6 459.8,352.5 460.3,352.9 460.7,354.0 461.1,353.6 461.5,354.1 461.9,353.9 462.3,354.3 462.8,354.0 463.2,354.8 463.6,355.5 464.0,356.1 464.5,356.0 464.9,356.1 465.3,356.1 465.8,356.2 466.2,356.6 466.6,357.1 467.1,356.8 467.5,357.7 467.9,357.2 468.4,357.2 468.8,357.7 469.3,357.7 469.7,358.1 470.1,359.2 470.6,358.9 471.0,359.3 471.5,359.9 471.9,360.1 472.3,359.8 472.8,360.6 473.2,360.5 473.7,360.6 474.1,361.0 474.6,360.6 475.0,361.0 475.5,361.5 475.9,361.9 476.4,361.8 476.8,362.1 477.3,362.7 477.7,363.1 478.2,363.1 478.6,363.4 479.1,363.0 479.5,363.3 480.0,363.7 480.5,363.7 480.9,363.8 481.4,364.7 481.8,364.3 482.3,364.2 482.8,364.9 483.2,365.5 483.7,365.1 484.2,365.7 484.6,365.2 485.1,365.4 485.6,365.5 486.1,365.9 486.5,366.7 487.0,365.8 487.5,367.0 487.9,366.2 488.4,366.7 488.9,367.2 489.3,367.3 489.8,367.4 490.3,366.9 490.7,367.8 491.2,367.5 491.7,368.9 492.1,368.1 492.6,368.4 493.1,368.1 493.5,368.5 494.0,368.4 494.4,369.4 494.9,369.2 495.4,369.6 495.8,369.4 496.3,369.6 496.8,370.4 497.2,369.8 497.7,369.7 498.2,370.6 498.6,370.3 499.1,370.7 499.6,371.3 500.1,370.8 500.5,371.6 501.0,371.2 501.5,372.1 502.0,372.2 502.4,371.7 502.9,371.9 503.4,371.9 503.9,372.4 504.4,372.8 504.8,372.0 505.3,373.0 505.8,372.4 506.3,372.6 506.8,372.4 507.3,373.9 507.7,373.3 508.2,373.5 508.7,373.3 509.2,374.1 509.7,373.1 510.2,373.9 510.7,374.8 511.1,374.0 511.6,374.3 512.1,374.6 512.6,374.2 513.1,374.6 513.6,375.1 514.1,374.9 514.5,375.1 515.0,375.0 515.5,375.3 516.0,375.3 516.5,375.9 517.0,375.8 517.5,375.6 518.0,374.9 518.4,376.1 518.9,376.3 519.4,375.8 519.9,375.5 520.4,375.9 520.9,376.8 521.4,376.2 521.9,376.5 522.3,376.8 522.8,377.3 523.3,377.0 523.8,377.0 524.3,377.0 524.8,377.8 525.3,377.7 525.8,377.4 526.3,377.1 526.7,377.4 527.2,378.0 527.7,377.6 528.2,378.3 528.7,378.2 529.2,378.2 529.7,378.4 530.2,378.5 530.7,378.1 531.2,378.3 531.7,379.4 532.2,378.2 532.7,378.5 533.2,379.1 533.6,378.8 534.1,378.6 534.6,378.5 535.1,379.3 535.6,379.5 536.1,379.7 536.6,379.3 537.1,379.7 537.6,379.1 538.1,379.6 538.6,379.4 539.1,379.7 539.6,380.0 540.1,380.2 540.6,379.5 541.1,380.4 541.6,379.9 542.0,379.8 542.5,380.1 543.0,379.8 543.5,380.3 544.0,380.5 544.5,380.4 545.0,380.8 545.5,380.6 546.0,380.7 546.5,380.3 547.0,380.9 547.5,380.7 548.0,380.9 548.5,381.1 549.0,381.3 549.4,380.7 549.9,380.9 550.4,381.4 550.9,381.7 551.4,381.8 551.9,382.1 552.4,382.3 552.9,382.1 553.4,382.0 553.9,381.7 554.4,381.8 554.9,382.0 555.4,382.4 555.9,382.4 556.4,382.4 556.8,382.4 557.3,382.8 557.8,382.7 558.3,382.8 558.8,382.8 559.3,382.6 559.8,382.5 560.3,383.1 560.8,383.1 561.3,382.9 561.8,382.9 562.3,383.9 562.8,382.9 563.3,383.1 563.8,383.3 564.3,382.9 564.8,383.4 565.3,384.0 565.8,383.7 566.3,383.7 566.8,383.7 567.3,383.6 567.8,383.9 568.3,383.6 568.8,383.6 569.3,383.8 569.8,384.1 570.3,384.0 570.8,384.2 571.3,383.3 571.8,384.4 572.3,384.9 572.8,384.6 573.2,384.1 573.7,383.9 574.2,384.4 574.7,384.0 575.2,384.6 575.7,384.3 576.2,384.8 576.7,385.0 577.2,383.9 577.7,384.8 578.2,384.5 578.7,384.3 579.2,384.6 579.7,384.8 580.2,385.3 580.7,384.4 581.2,385.4 581.7,385.7 582.2,385.3 582.7,385.3 583.2,385.2 583.7,384.8 584.2,385.5 584.7,385.4 585.2,385.6 585.7,386.3 586.2,385.7 586.7,385.6 587.2,386.1 587.7,385.1 588.2,385.2 588.7,385.5 589.2,385.5 589.7,386.0 590.2,385.7 590.7,386.4 591.2,386.4 591.7,386.2 592.2,385.8 592.7,386.2 593.2,386.3 593.7,385.7 594.2,386.2 594.7,386.4 595.2,386.3 595.7,386.8 596.2,386.7 596.7,386.0 597.1,386.4 597.6,386.1 598.1,386.6 598.6,386.2 599.1,386.8 599.6,386.7 600.1,386.9 600.6,386.6 601.1,386.2 601.6,387.3 602.1,386.7 602.6,387.3 603.1,387.0 603.6,387.1 604.1,387.5 604.6,387.0 605.1,387.4 605.6,386.5 606.1,387.3 606.6,387.0 607.1,387.1 607.6,387.1 608.1,387.3 608.6,387.8 609.1,386.6 609.6,387.3 610.1,387.1 610.6,387.7 611.1,387.2 611.6,387.6 612.1,387.3 612.6,387.7 613.1,387.9 613.6,387.4 614.1,387.6 614.6,387.1 615.1,387.8 615.6,388.0 616.1,387.5 616.6,388.2 617.1,387.1 617.6,387.2 618.1,387.4 618.6,387.8 619.1,388.0 619.6,388.0 620.1,388.0 620.6,388.3 621.1,388.0 621.6,387.7 622.1,387.8 622.6,389.0 623.1,387.5 623.6,388.3 624.1,388.9 624.6,388.6 625.1,388.2 625.6,388.5 626.1,388.9 626.6,389.1 627.1,388.4 627.6,389.0 628.1,388.9 628.5,389.2 629.0,389.4 629.5,388.8 630.0,388.5 630.5,389.2 631.0,389.7 631.5,389.4 632.0,389.2 632.5,390.0 633.0,388.9 633.5,389.6 634.0,389.1 634.5,389.4 635.0,389.4 635.5,390.0 636.0,389.2 636.5,389.3 637.0,389.0 637.5,389.8 638.0,389.5 638.5,389.8 639.0,389.3 639.5,389.6 640.0,390.1 640.5,389.7 641.0,390.0 641.5,390.0 642.0,389.7 642.5,389.3 643.0,390.2 643.5,389.9 644.0,390.2 644.5,389.2 645.0,389.4 645.5,389.2 646.0,389.7 646.5,390.3 647.0,390.2 647.5,390.0 648.0,390.1 648.5,390.3 649.0,389.9 649.5,390.2 650.0,390.1 650.5,389.3 651.0,390.0 651.5,390.6 652.0,390.0 652.5,390.1 653.0,389.9 653.5,390.0 654.0,390.6 654.5,390.1 655.0,389.8 655.5,389.1 656.0,390.0 656.5,389.5 657.0,389.6 657.5,390.5 658.0,390.5 658.5,389.6 659.0,390.6 659.5,390.5 660.0,390.0 660.5,390.6 661.0,389.8 661.5,389.9 662.0,389.9 662.5,390.0 663.0,390.7 663.5,389.9 664.0,390.0 664.5,390.1 665.0,390.5 665.5,390.4 666.0,390.8 666.5,390.3 667.0,390.1 667.5,390.4 668.0,390.6 668.5,390.3 669.0,390.7 669.5,391.3 670.0,390.4 670.5,390.7 671.0,391.1 671.5,390.5 672.0,390.4 672.5,390.4 673.0,390.9 673.5,391.0 674.0,390.8 674.5,390.9 675.0,391.3 675.5,391.2 676.0,390.4 676.5,391.0 677.0,391.0 677.5,391.3 678.0,391.0 678.5,390.9 679.0,391.0 679.5,390.6 680.0,391.2 680.5,391.1 681.0,391.5 681.5,391.0 682.0,391.3 682.5,391.1 683.0,391.1 683.4,391.8 683.9,391.5 684.4,391.8 684.9,391.3 685.4,391.8 685.9,391.2 686.4,391.7 686.9,391.8 687.4,392.2 687.9,392.1 688.4,392.0 688.9,392.4 689.4,392.3 689.9,392.4 690.4,392.6 690.9,392.3 691.4,392.3 691.9,392.5 692.4,392.3 692.9,392.6 693.4,392.9 693.9,392.9 694.4,392.5 694.9,392.2 695.4,392.6 695.9,392.6 696.4,393.1 696.9,392.6 697.4,392.7 697.9,393.1 698.4,392.7 698.9,392.8 699.4,393.5 699.9,393.4 700.4,393.1 700.9,393.0 701.4,392.6 701.9,393.2 702.4,393.0 702.9,393.1 703.4,392.9 703.9,393.1 704.4,393.0 704.9,393.2 705.4,393.6 705.9,393.3 706.4,392.6 706.9,392.8 707.4,392.6 707.9,392.9 708.4,393.4 708.9,393.4 709.4,393.0 709.9,393.4 710.4,393.0 710.9,392.8 711.4,392.8 711.9,393.0 712.4,393.9 712.9,392.9 713.4,393.8 713.9,393.9 714.4,393.4 714.9,393.4 715.4,393.2 715.9,393.5 716.4,393.7 716.9,393.5 717.4,393.9 717.9,393.9 718.4,393.7 718.9,393.7 719.4,393.5 719.9,393.7 720.4,393.2 720.9,393.8 721.4,393.7 721.9,393.3 722.4,394.4 722.9,393.3 723.4,393.4 723.9,393.8 724.4,393.0 724.9,393.5 725.4,393.2 725.9,393.4 726.4,393.7 726.9,393.9 727.4,394.2 727.9,394.1 728.4,394.3 728.9,394.1 729.4,393.7 729.9,394.3 730.4,393.7 730.9,393.7 731.4,394.5 731.9,394.2 732.4,394.1 732.9,394.3 733.4,394.3 733.9,393.6 734.4,394.0 734.9,393.7 735.4,394.1 735.9,393.9 736.4,394.6 736.9,394.3 737.4,393.9 737.9,394.2 738.4,393.8 738.9,394.3 739.4,394.5 739.9,394.4 740.4,393.6 740.9,394.2 741.4,394.5 741.9,394.5 742.4,394.8 742.9,394.0 743.4,394.6 743.9,394.2 744.4,394.5 744.9,394.6 745.4,394.7 745.9,394.3 746.4,394.6 746.9,394.1 747.4,394.1 747.9,394.8 748.3,394.6 748.8,394.1 749.3,394.3 749.8,394.7 750.3,395.2 750.8,395.1 751.3,395.0 751.8,394.1 752.3,394.7 752.8,394.9 753.3,394.9 753.8,394.9 754.3,394.7 754.8,395.4 755.3,395.3 755.8,394.8 756.3,394.5 756.8,395.6 757.3,394.7 757.8,395.3 758.3,395.6 758.8,394.6 759.3,395.0 759.8,394.8 760.3,395.1 760.8,395.1 761.3,395.6 761.8,395.2 762.3,395.0 762.8,395.4 763.3,394.9 763.8,394.9 764.3,395.8 764.8,394.8 765.3,394.9 765.8,395.1 766.3,394.7 766.8,394.4 767.3,395.5 767.8,394.9 768.3,395.0 768.8,395.0 769.3,394.8 769.8,394.8 770.3,395.3 770.8,396.1 771.3,395.5 771.8,395.5 772.3,394.7 772.8,395.3 773.3,394.9 773.8,395.6 774.3,395.3 774.8,395.4 775.3,395.3 775.8,395.2 776.3,394.9 776.8,395.7 777.3,395.0 777.8,395.1 778.3,395.4 778.8,395.3 779.3,395.7 779.8,396.0 780.3,395.8 780.8,395.8 781.3,395.8 781.8,396.1 782.3,395.2 782.8,396.1 783.3,395.7 783.8,395.7 784.3,396.2 784.7,396.1 785.2,396.6 785.7,396.9 786.2,395.8 786.6,396.7 787.1,397.5 787.6,397.3 788.1,397.6 788.5,397.2 789.0,396.8 789.5,397.1 790.0,397.9 790.4,398.1 790.9,397.7 791.4,398.0 791.8,398.4 792.2,397.9 792.7,398.7 793.1,399.6 793.5,400.1 793.9,399.6 794.3,400.6 794.7,400.1 795.1,400.3 795.4,400.1 795.8,401.6 796.1,401.5 796.5,402.8 796.8,402.4 797.2,402.8 797.5,402.4 797.8,404.0 798.2,403.7 798.5,404.2 798.8,403.8 799.1,405.3 799.4,405.7 799.7,405.6 799.9,406.0" fill="none" stroke="#0000ff" stroke-width="4.4" stroke-linejoin="round" stroke-linecap="round"/>
<path d="M1.5,494.6 2.0,494.9 2.5,494.7 3.0,495.4 3.5,494.8 3.9,494.7 4.4,494.8 4.9,494.1 5.4,494.7 5.9,495.4 6.4,495.1 6.9,494.8 7.4,495.2 7.9,494.4 8.4,495.0 8.9,495.2 9.4,495.3 9.9,494.8 10.4,495.4 10.9,495.7 11.4,494.9 11.9,495.3 12.4,494.5 12.9,494.4 13.4,495.3 13.9,495.1 14.4,495.1 14.9,494.9 15.4,495.0 15.9,495.4 16.4,495.7 16.9,495.0 17.4,494.5 17.9,495.5 18.4,495.3 18.9,495.3 19.4,495.1 19.9,495.9 20.4,495.1 20.9,495.3 21.4,494.4 21.9,494.9 22.4,494.8 22.9,495.1 23.4,495.2 23.9,494.8 24.4,495.7 24.9,494.7 25.4,494.9 25.9,495.2 26.4,494.6 26.9,495.3 27.4,495.3 27.9,495.0 28.4,495.8 28.9,495.1 29.4,495.2 29.9,494.7 30.4,494.5 30.9,494.9 31.4,495.0 31.9,494.9 32.4,495.4 32.9,494.2 33.4,494.7 33.9,494.4 34.4,495.6 34.9,494.9 35.4,494.9 35.9,494.7 36.4,495.4 36.9,494.9 37.4,495.2 37.9,494.4 38.4,495.5 38.9,495.2 39.4,495.3 39.9,495.5 40.4,495.0 40.9,495.0 41.4,495.3 41.9,495.2 42.4,495.0 42.9,495.1 43.4,494.9 43.9,495.3 44.4,495.4 44.9,495.1 45.4,495.7 45.9,494.5 46.4,495.0 46.9,495.7 47.4,494.9 47.9,494.5 48.4,495.6 48.9,495.3 49.4,494.7 49.9,495.3 50.4,494.7 50.9,494.6 51.4,495.0 51.9,494.9 52.4,494.7 52.9,494.9 53.4,494.7 53.9,495.1 54.4,495.1 54.9,495.3 55.4,494.9 55.9,494.6 56.4,494.6 56.9,495.0 57.4,495.6 57.9,495.3 58.4,494.8 58.9,495.4 59.4,494.6 59.9,495.4 60.4,494.9 60.9,495.3 61.4,495.2 61.9,494.9 62.4,495.1 62.9,494.6 63.4,495.0 63.9,495.4 64.4,496.4 64.9,495.2 65.4,495.0 65.9,494.6 66.4,495.3 66.9,494.4 67.4,494.7 67.9,495.1 68.4,494.5 68.9,495.5 69.4,495.3 69.9,494.7 70.4,494.7 70.9,494.5 71.4,494.4 71.9,495.1 72.4,495.1 72.9,495.0 73.4,495.0 73.9,494.7 74.4,495.0 74.9,494.4 75.4,494.9 75.9,495.4 76.4,495.3 76.9,494.7 77.4,494.7 77.9,495.3 78.4,495.5 78.9,494.3 79.4,494.7 79.9,494.9 80.4,495.2 80.9,494.5 81.4,495.0 81.9,494.7 82.4,495.6 82.9,494.9 83.4,494.7 83.9,494.7 84.4,495.1 84.9,495.0 85.4,494.4 85.9,494.8 86.4,494.3 86.9,494.5 87.4,494.3 87.9,494.2 88.4,494.5 88.9,494.3 89.4,494.9 89.9,495.0 90.4,494.6 90.9,494.3 91.4,494.9 91.9,493.9 92.4,494.0 92.9,494.9 93.4,494.8 93.9,494.9 94.4,494.5 94.9,494.1 95.4,494.4 95.9,494.8 96.4,494.3 96.9,494.3 97.4,494.0 97.9,494.1 98.4,494.8 98.9,494.7 99.4,494.1 99.9,494.1 100.4,494.3 100.9,494.6 101.4,494.0 101.9,494.4 102.4,493.7 102.9,494.0 103.4,494.5 103.9,494.7 104.4,493.9 104.9,494.1 105.4,494.6 105.9,494.2 106.4,494.1 106.9,494.5 107.4,494.3 107.9,494.6 108.4,494.5 108.9,494.0 109.4,494.1 109.9,494.1 110.4,493.7 110.9,493.8 111.4,494.5 111.9,493.5 112.4,494.4 112.9,494.2 113.4,494.0 113.9,494.2 114.4,494.2 114.9,494.4 115.4,493.8 115.9,493.9 116.4,493.8 116.9,494.6 117.4,494.2 117.9,493.5 118.4,493.7 118.9,493.6 119.4,493.8 119.9,493.9 120.4,494.6 120.9,493.1 121.4,494.1 121.9,493.9 122.4,493.4 122.9,493.6 123.4,493.5 123.9,493.6 124.4,494.0 124.9,493.0 125.4,494.0 125.9,493.4 126.4,494.0 126.9,493.6 127.4,493.9 127.9,493.6 128.4,493.8 128.9,493.4 129.4,493.1 129.9,493.6 130.4,493.6 130.9,494.0 131.4,492.6 131.9,493.2 132.4,493.6 132.9,492.8 133.4,493.1 133.9,493.9 134.4,493.6 134.9,492.8 135.4,493.6 135.9,493.5 136.4,493.3 136.9,493.2 137.4,493.1 137.9,492.7 138.4,492.8 138.9,493.2 139.4,493.0 139.9,493.5 140.4,492.8 140.9,492.0 141.4,492.7 141.9,492.9 142.4,492.9 142.9,492.8 143.4,492.4 143.9,493.2 144.4,492.5 144.9,492.9 145.4,492.5 145.9,492.2 146.4,493.1 146.9,491.7 147.4,492.3 147.9,492.7 148.4,492.4 148.9,492.7 149.4,492.4 149.9,492.3 150.4,493.2 150.9,492.3 151.4,492.3 151.9,492.0 152.4,492.0 152.9,492.5 153.4,492.5 153.9,492.2 154.4,492.0 154.9,492.4 155.4,491.5 155.9,492.0 156.4,492.0 156.9,491.8 157.4,492.1 157.9,491.8 158.4,491.7 158.9,492.6 159.4,492.2 159.9,492.3 160.4,491.8 160.9,492.1 161.4,492.0 161.9,492.1 162.4,492.5 162.9,491.6 163.4,491.7 163.9,491.6 164.4,490.3 164.9,491.0 165.4,491.5 165.9,491.6 166.4,491.2 166.9,491.7 167.4,491.7 167.8,491.1 168.3,491.7 168.8,491.8 169.3,491.3 169.8,490.7 170.3,491.5 170.8,490.9 171.3,490.8 171.8,490.9 172.3,490.6 172.8,491.1 173.3,491.0 173.8,491.1 174.3,490.8 174.8,490.3 175.3,490.4 175.8,490.7 176.3,490.2 176.8,491.4 177.3,490.2 177.8,490.0 178.3,490.6 178.8,490.4 179.3,490.1 179.8,489.9 180.3,490.1 180.8,490.2 181.3,490.1 181.8,489.7 182.3,489.9 182.8,490.0 183.3,489.9 183.8,488.5 184.3,489.2 184.8,489.2 185.2,489.3 185.7,489.4 186.2,489.6 186.7,489.4 187.2,489.1 187.7,489.1 188.2,489.6 188.7,488.7 189.2,489.0 189.7,489.3 190.2,488.8 190.7,487.9 191.2,488.7 191.7,488.4 192.2,488.4 192.7,488.7 193.2,488.4 193.7,488.1 194.2,488.4 194.6,488.2 195.1,488.0 195.6,488.0 196.1,487.9 196.6,487.6 197.1,487.4 197.6,487.5 198.1,487.1 198.6,486.9 199.1,487.7 199.6,487.1 200.1,487.0 200.6,486.9 201.0,486.9 201.5,486.8 202.0,486.7 202.5,486.3 203.0,486.8 203.5,486.1 204.0,486.6 204.5,485.5 204.9,485.6 205.4,486.2 205.9,485.7 206.4,485.4 206.9,485.6 207.4,485.0 207.8,485.3 208.3,484.3 208.8,484.8 209.3,484.6 209.7,484.8 210.2,484.8 210.7,484.0 211.1,484.7 211.6,483.8 212.1,483.1 212.5,482.8 213.0,483.9 213.4,483.2 213.9,482.8 214.3,482.5 214.8,482.2 215.2,482.8 215.7,482.1 216.1,482.5 216.5,481.6 217.0,480.6 217.4,481.4 217.8,480.8 218.2,480.6 218.7,480.9 219.1,480.0 219.5,480.3 219.9,479.6 220.3,479.0 220.8,479.2 221.2,478.5 221.6,478.9 222.0,478.5 222.4,477.9 222.8,477.8 223.2,477.4 223.6,476.8 223.9,476.9 224.3,476.2 224.7,476.2 225.1,475.4 225.5,475.4 225.9,475.2 226.2,474.4 226.6,474.2 227.0,473.9 227.4,474.0 227.7,473.1 228.1,473.2 228.5,473.2 228.8,472.5 229.2,471.4 229.5,471.7 229.9,471.7 230.2,470.9 230.6,471.0 230.9,470.5 231.3,470.0 231.6,469.4 231.9,469.0 232.3,468.7 232.6,468.4 232.9,468.2 233.3,467.8 233.6,467.2 233.9,466.9 234.2,466.6 234.5,465.5 234.8,465.4 235.1,465.0 235.4,464.9 235.7,464.4 236.0,464.0 236.3,463.4 236.6,463.5 236.9,463.0 237.2,461.9 237.5,462.1 237.7,461.3 238.0,461.8 238.3,460.7 238.5,460.3 238.8,460.0 239.1,459.5 239.4,459.1 239.6,459.3 239.9,458.4 240.1,458.2 240.4,457.8 240.7,456.7 240.9,457.2 241.2,456.4 241.4,456.1 241.7,455.0 241.9,455.2 242.2,454.6 242.4,453.8 242.7,454.4 242.9,453.3 243.2,452.6 243.4,452.3 243.7,452.2 243.9,451.8 244.2,451.2 244.4,451.0 244.7,450.6 244.9,449.2 245.2,449.1 245.4,448.5 245.7,448.4 245.9,448.4 246.2,447.7 246.4,446.7 246.7,446.5 246.9,446.5 247.1,445.6 247.4,445.3 247.6,445.0 247.9,443.8 248.1,444.3 248.4,443.7 248.6,443.3 248.8,442.4 249.1,442.0 249.3,441.6 249.6,441.5 249.8,441.0 250.1,440.6 250.3,440.7 250.6,440.1 250.8,439.0 251.1,438.6 251.3,439.0 251.6,437.8 251.8,438.0 252.1,437.6 252.3,436.4 252.6,436.1 252.8,435.8 253.1,435.0 253.4,434.6 253.6,434.3 253.9,434.4 254.2,433.5 254.4,433.1 254.7,432.6 255.0,431.9 255.2,432.5 255.5,430.7 255.8,430.9 256.1,430.9 256.4,429.9 256.7,430.2 257.0,430.0 257.3,428.9 257.6,428.8 257.9,428.0 258.2,428.2 258.5,427.7 258.9,427.4 259.2,427.4 259.5,426.8 259.9,426.8 260.3,426.2 260.6,425.3 261.0,425.5 261.4,425.3 261.8,424.3 262.2,425.0 262.6,424.4 263.0,424.2 263.4,423.6 263.8,423.7 264.3,423.6 264.7,423.3 265.1,423.3 265.6,422.4 266.0,423.5 266.5,422.5 266.9,422.1 267.4,422.4 267.9,422.4 268.3,422.9 268.8,422.4 269.2,422.8 269.7,422.4 270.2,423.6 270.6,423.1 271.1,423.7 271.5,422.7 272.0,423.5 272.4,423.0 272.9,423.7 273.3,423.9 273.8,423.3 274.2,423.6 274.7,423.8 275.1,423.9 275.5,424.4 276.0,424.6 276.4,424.6 276.8,425.4 277.2,425.8 277.7,425.4 278.1,426.0 278.5,426.4 278.9,426.6 279.3,426.7 279.7,427.5 280.1,427.8 280.6,428.1 281.0,428.0 281.4,429.1 281.8,429.3 282.1,428.9 282.5,429.3 282.9,430.0 283.3,429.7 283.7,430.4 284.1,430.6 284.5,430.7 284.9,431.1 285.2,431.0 285.6,431.7 286.0,431.5 286.3,433.3 286.7,433.4 287.1,433.6 287.4,433.7 287.8,434.2 288.2,434.7 288.5,434.9 288.9,435.3 289.2,435.0 289.6,435.8 290.0,435.8 290.3,435.9 290.7,436.3 291.0,437.2 291.4,437.8 291.7,437.3 292.1,438.7 292.4,439.0 292.8,438.7 293.1,439.0 293.5,439.5 293.8,440.2 294.2,440.1 294.5,440.2 294.9,441.1 295.2,440.6 295.6,441.7 295.9,442.4 296.3,442.5 296.6,443.0 297.0,443.2 297.4,443.7 297.7,443.8 298.1,443.8 298.5,444.4 298.8,444.8 299.2,445.6 299.6,446.0 299.9,445.9 300.3,445.8 300.7,446.2 301.1,446.7 301.5,447.6 301.8,447.5 302.2,447.7 302.6,447.7 303.0,448.6 303.4,448.7 303.8,448.9 304.2,449.2 304.6,450.1 305.0,449.7 305.4,450.7 305.8,450.8 306.3,450.7 306.7,451.2 307.1,451.1 307.5,451.2 307.9,451.6 308.3,451.7 308.8,452.4 309.2,452.5 309.6,453.0 310.1,453.3 310.5,452.2 310.9,453.6 311.4,453.1 311.8,454.1 312.2,453.9 312.7,454.5 313.1,455.2 313.6,454.3 314.0,455.2 314.4,455.3 314.9,454.9 315.3,456.0 315.8,456.0 316.2,456.0 316.7,456.2 317.1,457.7 317.6,456.7 318.1,456.3 318.5,456.8 319.0,457.2 319.4,457.3 319.9,457.6 320.4,457.4 320.9,458.1 321.3,457.9 321.8,457.7 322.3,458.0 322.8,458.2 323.3,458.8 323.7,458.7 324.2,458.5 324.7,458.7 325.2,458.8 325.7,459.5 326.2,458.7 326.7,459.1 327.2,459.2 327.7,458.7 328.2,459.1 328.7,459.1 329.1,458.9 329.6,459.3 330.1,459.4 330.6,459.5 331.1,459.0 331.6,459.1 332.1,459.8 332.6,458.6 333.1,459.0 333.6,459.2 334.1,458.9 334.6,459.0 335.1,458.8 335.6,458.9 336.1,459.0 336.5,458.4 337.0,458.5 337.5,458.3 338.0,458.1 338.5,458.1 338.9,457.6 339.4,458.1 339.9,458.3 340.4,458.1 340.8,457.8 341.3,456.9 341.8,457.6 342.2,456.6 342.7,456.6 343.1,457.1 343.6,455.9 344.0,456.3 344.4,455.9 344.9,455.5 345.3,455.0 345.7,455.2 346.2,454.7 346.6,455.0 347.0,454.8 347.4,453.6 347.8,453.6 348.2,453.4 348.6,452.8 349.0,452.5 349.4,452.6 349.8,452.2 350.1,451.4 350.5,451.4 350.9,451.5 351.2,450.5 351.6,450.3 352.0,450.8 352.3,450.4 352.7,449.0 353.0,448.7 353.3,449.0 353.7,448.1 354.0,448.0 354.4,447.6 354.7,447.6 355.0,446.1 355.3,445.8 355.7,445.8 356.0,446.2 356.3,445.4 356.6,444.5 356.9,444.9 357.2,444.5 357.5,443.8 357.8,443.4 358.1,443.3 358.4,443.1 358.7,442.3 359.0,442.1 359.3,441.5 359.6,440.9 359.9,440.3 360.1,440.3 360.4,439.7 360.7,439.3 361.0,439.3 361.2,438.8 361.5,438.5 361.8,437.2 362.0,437.5 362.3,436.7 362.5,436.2 362.8,435.7 363.1,436.0 363.3,435.5 363.5,434.5 363.8,433.9 364.0,433.9 364.3,433.3 364.5,433.6 364.7,432.0 365.0,431.4 365.2,431.6 365.4,431.2 365.6,430.8 365.8,430.6 366.0,430.6 366.3,429.3 366.5,428.7 366.7,427.9 366.9,428.1 367.1,427.9 367.3,427.0 367.5,427.1 367.6,426.2 367.8,426.3 368.0,425.4 368.2,424.4 368.4,424.1 368.5,423.3 368.7,422.8 368.9,423.0 369.1,422.8 369.2,422.7 369.4,421.5 369.5,421.0 369.7,420.2 369.8,420.4 370.0,419.7 370.1,418.9 370.3,418.9 370.4,418.4 370.6,417.0 370.7,417.5 370.9,416.8 371.0,416.1 371.1,415.6 371.3,415.9 371.4,415.4 371.5,415.0 371.7,413.4 371.8,413.1 371.9,413.2 372.0,412.0 372.1,411.7 372.3,410.8 372.4,411.6 372.5,410.8 372.6,410.1 372.7,409.6 372.8,408.8 372.9,408.4 373.0,408.2 373.1,407.3 373.2,407.5 373.3,406.4 373.4,405.7 373.5,406.0 373.6,405.0 373.7,404.8 373.8,403.9 373.9,402.8 374.0,403.3 374.1,402.1 374.1,402.5 374.2,401.1 374.3,400.5 374.4,400.8 374.5,400.3 374.6,399.7 374.6,398.7 374.7,399.0 374.8,397.7 374.9,397.5 375.0,396.9 375.1,396.6 375.2,396.5 375.2,395.5 375.3,395.4 375.4,395.0 375.5,393.7 375.6,393.4 375.7,393.1 375.8,392.6 375.9,392.4 376.0,391.1 376.1,391.6 376.2,391.1 376.3,390.3 376.4,389.4 376.4,389.3 376.5,388.7 376.6,388.6 376.7,387.8 376.8,387.6 376.9,386.7 377.0,386.9 377.0,385.1 377.1,385.1 377.2,385.1 377.3,383.9 377.3,384.2 377.4,383.0 377.5,383.0 377.6,382.1 377.6,381.8 377.7,381.5 377.8,380.9 377.8,380.3 377.9,380.7 378.0,379.5 378.0,378.6 378.1,378.8 378.2,378.3 378.2,377.9 378.3,377.6 378.4,376.2 378.4,376.4 378.5,375.9 378.5,375.0 378.6,374.6 378.7,373.0 378.7,373.3 378.8,373.6 378.8,371.9 378.9,371.8 378.9,371.6 379.0,371.2 379.1,371.1 379.1,369.4 379.2,369.6 379.2,369.3 379.3,368.1 379.4,368.0 379.4,368.2 379.5,367.5 379.5,366.8 379.6,365.2 379.7,365.5 379.7,365.2 379.8,364.5 379.8,364.1 379.9,364.7 380.0,363.0 380.0,362.3 380.1,362.2 380.1,361.5 380.2,361.0 380.3,360.6 380.3,360.4 380.4,359.7 380.5,358.7 380.5,358.6 380.6,358.3 380.7,357.5 380.7,357.5 380.8,356.9 380.9,355.8 380.9,355.8 381.0,355.9 381.1,355.2 381.1,354.2 381.2,354.0 381.3,352.9 381.3,352.2 381.4,352.4 381.5,351.8 381.5,351.4 381.6,350.7 381.7,350.3 381.8,349.5 381.8,349.4 381.9,349.0 382.0,348.2 382.0,348.0 382.1,346.6 382.2,346.5 382.3,346.8 382.3,346.4 382.4,345.3 382.5,344.7 382.6,343.8 382.6,343.9 382.7,343.6 382.8,342.3 382.9,342.5 382.9,342.0 383.0,341.5 383.1,340.4 383.2,340.5 383.3,339.3 383.3,339.9 383.4,338.9 383.5,337.9 383.6,338.3 383.7,337.8 383.8,336.6 383.8,337.1 383.9,335.5 384.0,335.5 384.1,335.3 384.2,333.6 384.3,334.3 384.4,333.4 384.5,332.9 384.6,332.1 384.6,332.1 384.7,331.1 384.8,330.6 384.9,330.3 385.0,329.6 385.1,330.0 385.2,328.5 385.3,328.3 385.4,327.9 385.5,327.5 385.6,327.3 385.7,326.8 385.8,326.0 385.9,325.4 386.1,325.1 386.2,324.9 386.3,324.4 386.4,323.4 386.5,322.4 386.6,323.4 386.7,322.5 386.8,321.8 386.9,321.3 387.0,320.5 387.1,319.9 387.2,319.6 387.3,319.1 387.4,318.5 387.5,317.7 387.6,317.6 387.7,317.5 387.8,316.6 387.9,316.3 388.0,315.1 388.0,315.2 388.1,314.8 388.2,313.9 388.3,313.2 388.4,313.5 388.5,312.6 388.6,312.5 388.7,311.7 388.8,311.6 388.9,310.8 389.0,309.9 389.1,309.9 389.2,309.3 389.2,309.1 389.3,308.3 389.4,307.8 389.6,307.7 389.7,307.4 389.8,306.7 389.9,306.3 390.0,305.6 390.1,305.3 390.2,304.8 390.3,304.2 390.4,303.6 390.5,303.1 390.6,303.4 390.7,302.1 390.8,301.5 391.0,301.0 391.1,300.6 391.3,300.2 391.4,299.3 391.6,298.5 391.8,298.9 392.1,297.9 392.5,298.3 392.9,298.3 393.3,298.8 393.7,299.2 394.1,299.1 394.5,299.1 394.8,299.3 395.1,299.8 395.4,300.4 395.8,299.9 396.1,300.6 396.3,300.2 396.5,300.0 396.6,299.2 396.7,298.9 396.8,298.1 396.9,297.7 397.0,296.7 397.1,296.9 397.2,296.9 397.3,296.0 397.5,295.5 397.6,294.6 397.7,294.9 397.8,293.7 397.8,293.7 397.9,293.0 398.0,292.1 398.0,292.3 398.1,291.5 398.1,291.0 398.1,290.6 398.2,290.0 398.2,289.3 398.3,289.1 398.3,288.3 398.4,288.0 398.4,287.2 398.5,286.5 398.5,286.2 398.5,285.8 398.6,285.5 398.6,285.4 398.7,283.9 398.7,284.0 398.8,282.7 398.8,282.6 398.9,282.3 398.9,281.2 399.0,280.9 399.0,281.1 399.1,280.5 399.1,280.0 399.2,279.2 399.2,279.8 399.3,278.5 399.3,277.7 399.4,278.1 399.4,277.2 399.5,276.4 399.6,276.5 399.6,275.6 399.7,275.3 399.7,274.6 399.8,273.7 399.8,273.9 399.9,273.1 400.0,272.2 400.1,271.9 400.3,272.3 400.5,271.9 400.6,272.3 400.8,273.0 400.9,273.3 400.9,273.2 401.0,274.4 401.1,275.0 401.2,275.5 401.2,276.3 401.3,276.3 401.4,277.0 401.4,277.8 401.5,277.6 401.6,278.8 401.6,279.3 401.7,279.5 401.7,280.3 401.8,280.5 401.9,280.4 401.9,281.6 402.0,281.8 402.0,282.3 402.0,282.7 402.1,283.6 402.1,283.8 402.2,283.9 402.2,284.8 402.3,285.4 402.3,285.4 402.4,286.0 402.4,286.5 402.5,286.9 402.5,287.8 402.6,288.5 402.6,289.3 402.7,289.5 402.7,290.0 402.8,290.5 402.9,291.1 402.9,291.0 403.0,291.9 403.0,292.2 403.1,292.6 403.1,292.9 403.2,293.4 403.2,294.0 403.3,294.2 403.4,295.3 403.4,295.6 403.5,296.1 403.5,296.7 403.6,297.3 403.6,297.4 403.7,298.0 403.7,298.0 403.8,298.3 403.8,298.9 403.8,300.6 403.9,299.9 403.9,301.2 403.9,302.1 403.9,301.9 404.0,303.1 404.0,303.7 404.0,303.9 404.0,304.9 404.0,304.8 404.0,304.8 404.1,305.7 404.1,305.9 404.1,306.1 404.1,306.6 404.1,308.4 404.1,307.9 404.1,308.6 404.2,308.8 404.2,309.6 404.2,310.0 404.2,310.4 404.2,310.6 404.2,311.1 404.3,311.8 404.3,312.7 404.3,313.8 404.3,313.9 404.4,314.7 404.4,314.7 404.4,315.0 404.4,315.1 404.5,316.1 404.5,315.8 404.5,317.0 404.5,318.1 404.6,318.2 404.6,318.9 404.7,318.9 404.7,319.1 404.7,319.9 404.8,320.4 404.8,321.5 404.9,322.2 405.0,321.8 405.0,322.4 405.1,323.0 405.1,323.4 405.2,323.6 405.3,324.6 405.3,325.1 405.4,325.6 405.4,325.6 405.5,326.5 405.6,326.4 405.7,327.8 405.7,327.6 405.8,328.4 405.9,328.8 405.9,329.3 406.0,329.6 406.1,329.8 406.2,331.6 406.2,331.5 406.3,332.0 406.4,333.2 406.5,332.9 406.6,333.6 406.6,333.9 406.7,334.8 406.8,335.1 406.9,335.5 407.0,335.8 407.1,336.5 407.1,337.3 407.2,336.6 407.3,337.8 407.4,338.2 407.5,338.7 407.6,338.6 407.7,340.1 407.8,340.0 407.9,340.7 408.0,341.1 408.1,341.2 408.2,342.1 408.3,342.1 408.4,342.9 408.5,343.6 408.6,344.2 408.7,344.7 408.8,345.2 408.9,346.5 409.0,346.3 409.1,346.3 409.2,347.0 409.3,347.4 409.4,348.1 409.5,348.4 409.6,348.8 409.7,350.2 409.8,350.1 409.9,350.5 410.0,351.0 410.1,351.5 410.2,352.6 410.3,352.7 410.4,353.4 410.5,352.4 410.6,354.1 410.7,354.9 410.8,355.7 410.9,355.5 411.0,355.4 411.1,356.7 411.2,356.8 411.2,356.8 411.3,357.7 411.4,358.8 411.5,359.4 411.6,359.7 411.7,359.6 411.8,361.3 411.9,360.5 412.0,361.4 412.1,361.4 412.2,362.8 412.3,363.0 412.4,363.7 412.5,363.9 412.6,364.3 412.7,364.9 412.9,364.6 413.0,366.1 413.1,366.6 413.2,366.6 413.3,367.2 413.5,367.8 413.6,368.7 413.7,368.8 413.9,369.2 414.0,369.5 414.2,369.6 414.3,370.4 414.4,371.1 414.6,371.5 414.7,372.1 414.9,372.8 415.0,373.1 415.2,373.5 415.3,374.2 415.5,374.5 415.7,374.9 415.8,375.5 416.0,375.2 416.1,376.7 416.3,376.3 416.5,377.5 416.6,377.7 416.8,378.6 417.0,378.7 417.1,378.8 417.3,380.0 417.5,380.1 417.6,380.6 417.8,381.0 418.0,381.8 418.2,382.2 418.3,382.5 418.5,382.3 418.7,383.2 418.9,383.9 419.0,384.9 419.2,384.9 419.4,385.2 419.6,386.1 419.8,386.1 419.9,386.6 420.1,387.1 420.3,387.0 420.5,388.4 420.7,388.6 420.9,388.8 421.0,389.0 421.2,390.0 421.4,390.8 421.6,390.6 421.8,390.9 422.0,391.9 422.2,391.6 422.3,391.9 422.5,393.0 422.7,393.3 422.9,394.0 423.1,394.3 423.3,395.1 423.5,395.4 423.7,395.7 423.9,396.2 424.1,397.0 424.3,397.6 424.5,398.0 424.7,398.4 424.9,397.5 425.1,398.8 425.3,399.4 425.5,400.1 425.7,399.9 425.9,401.4 426.1,401.5 426.3,401.6 426.5,402.3 426.8,402.6 427.0,402.9 427.2,403.8 427.4,403.9 427.7,404.0 427.9,404.7 428.1,405.4 428.3,405.5 428.6,406.7 428.8,406.4 429.0,407.8 429.3,407.9 429.5,407.7 429.8,408.5 430.0,409.3 430.2,409.3 430.5,409.4 430.7,410.3 431.0,411.4 431.2,410.6 431.5,411.7 431.7,412.0 432.0,412.3 432.3,412.7 432.5,413.1 432.8,414.0 433.0,414.3 433.3,414.2 433.6,415.5 433.9,414.9 434.1,416.0 434.4,416.2 434.7,417.0 435.0,417.1 435.3,417.8 435.6,417.8 435.8,418.6 436.1,418.7 436.4,419.8 436.7,419.2 437.0,420.2 437.3,420.4 437.6,420.7 437.9,420.8 438.2,421.6 438.6,421.3 438.9,421.7 439.2,422.8 439.5,422.4 439.8,423.9 440.1,423.7 440.4,424.2 440.8,424.5 441.1,425.0 441.4,425.2 441.7,425.5 442.1,426.0 442.4,426.8 442.7,427.2 443.1,427.6 443.4,427.6 443.7,427.8 444.1,427.6 444.4,428.8 444.8,429.2 445.1,429.1 445.5,429.9 445.8,430.4 446.2,430.4 446.6,431.1 446.9,431.1 447.3,430.8 447.6,431.5 448.0,431.9 448.4,432.6 448.7,432.4 449.1,432.9 449.5,433.1 449.8,433.7 450.2,434.1 450.6,434.8 450.9,435.0 451.3,435.2 451.7,435.5 452.1,435.8 452.4,436.1 452.8,437.0 453.2,435.9 453.5,437.0 453.9,437.5 454.3,438.2 454.7,437.7 455.0,438.5 455.4,439.0 455.8,438.9 456.2,438.7 456.6,439.6 457.0,439.6 457.4,440.5 457.8,440.3 458.1,441.5 458.5,441.3 458.9,441.2 459.4,441.6 459.8,441.7 460.2,442.5 460.6,443.2 461.0,442.8 461.4,443.5 461.8,443.1 462.3,443.8 462.7,444.8 463.1,443.7 463.5,444.9 464.0,445.1 464.4,444.3 464.8,444.7 465.3,445.1 465.7,446.0 466.2,445.8 466.6,446.1 467.0,446.7 467.5,446.7 467.9,447.0 468.4,447.0 468.8,447.7 469.3,447.3 469.7,448.4 470.1,447.9 470.6,448.0 471.0,448.7 471.5,448.8 471.9,448.2 472.4,449.2 472.8,448.8 473.3,449.2 473.7,450.0 474.2,449.6 474.7,450.3 475.1,450.2 475.6,451.3 476.0,450.7 476.5,450.6 476.9,450.8 477.4,451.1 477.8,451.6 478.3,451.8 478.7,452.4 479.2,452.3 479.6,452.5 480.1,452.8 480.5,452.8 481.0,453.2 481.4,453.6 481.9,453.8 482.3,453.5 482.7,453.3 483.2,453.9 483.6,454.5 484.1,453.7 484.5,454.7 484.9,455.2 485.4,455.1 485.8,455.1 486.3,456.3 486.7,456.4 487.1,456.1 487.6,456.8 488.0,457.0 488.5,456.4 488.9,457.9 489.4,456.8 489.8,457.3 490.3,457.1 490.8,457.7 491.2,457.4 491.7,458.0 492.1,458.6 492.6,458.4 493.1,458.4 493.6,459.2 494.0,458.5 494.5,459.3 495.0,459.0 495.5,459.3 496.0,459.4 496.4,459.5 496.9,459.6 497.4,459.5 497.9,459.7 498.4,460.1 498.8,460.1 499.3,459.8 499.8,460.1 500.3,460.3 500.8,460.6 501.3,460.8 501.7,460.9 502.2,460.8 502.7,461.2 503.2,460.8 503.7,460.4 504.2,461.5 504.6,461.1 505.1,461.5 505.6,461.5 506.1,462.3 506.6,461.8 507.1,462.4 507.5,462.3 508.0,462.1 508.5,462.1 509.0,463.0 509.5,463.1 510.0,463.3 510.4,463.8 510.9,463.4 511.4,463.5 511.9,463.5 512.4,463.7 512.9,463.7 513.4,463.6 513.8,464.7 514.3,463.5 514.8,464.3 515.3,464.5 515.8,464.5 516.3,464.2 516.8,464.6 517.2,464.6 517.7,464.5 518.2,465.0 518.7,465.0 519.2,465.0 519.7,465.6 520.2,465.0 520.7,465.7 521.2,465.4 521.6,465.9 522.1,465.9 522.6,466.0 523.1,465.7 523.6,465.9 524.1,465.9 524.6,466.4 525.1,466.7 525.6,466.9 526.1,466.4 526.5,466.7 527.0,466.3 527.5,466.1 528.0,466.7 528.5,466.9 529.0,466.7 529.5,466.7 530.0,467.6 530.5,467.2 531.0,467.0 531.5,468.5 531.9,467.9 532.4,467.8 532.9,468.2 533.4,467.8 533.9,468.7 534.4,467.7 534.9,467.9 535.4,468.4 535.9,468.3 536.4,469.1 536.9,468.2 537.3,468.6 537.8,469.0 538.3,469.2 538.8,469.5 539.3,469.3 539.8,470.0 540.3,469.2 540.8,469.5 541.3,469.8 541.8,469.5 542.3,469.6 542.8,469.6 543.2,469.7 543.7,469.6 544.2,469.9 544.7,469.6 545.2,470.3 545.7,469.7 546.2,471.1 546.7,471.1 547.2,470.9 547.7,470.5 548.2,470.5 548.7,471.2 549.2,470.9 549.7,471.1 550.2,470.8 550.6,471.5 551.1,470.9 551.6,471.3 552.1,470.7 552.6,471.2 553.1,471.6 553.6,471.4 554.1,471.4 554.6,471.9 555.1,471.7 555.6,472.2 556.1,471.0 556.6,472.1 557.1,472.2 557.6,471.5 558.1,471.6 558.6,472.5 559.1,471.8 559.6,472.0 560.1,472.5 560.6,472.2 561.1,472.6 561.6,472.2 562.1,472.6 562.6,472.9 563.0,472.7 563.5,471.9 564.0,472.9 564.5,472.8 565.0,472.5 565.5,473.3 566.0,472.3 566.5,473.6 567.0,472.7 567.5,473.5 568.0,473.0 568.5,472.6 569.0,473.2 569.5,473.3 570.0,473.4 570.5,473.6 571.0,473.0 571.5,473.5 572.0,473.6 572.5,473.3 573.0,473.1 573.5,473.2 574.0,473.8 574.5,473.9 575.0,473.4 575.5,473.2 576.0,474.2 576.5,473.3 577.0,473.9 577.5,473.6 578.0,473.3 578.5,474.0 579.0,474.0 579.5,474.6 580.0,474.9 580.5,474.1 581.0,474.6 581.5,474.6 582.0,474.1 582.5,474.1 583.0,475.0 583.5,474.3 584.0,474.5 584.5,474.5 585.0,474.6 585.5,474.4 586.0,475.0 586.5,475.2 586.9,474.7 587.4,474.4 587.9,474.9 588.4,474.4 588.9,474.8 589.4,475.4 589.9,475.9 590.4,475.2 590.9,474.8 591.4,475.5 591.9,474.5 592.4,475.0 592.9,475.9 593.4,475.6 593.9,474.9 594.4,474.9 594.9,475.8 595.4,475.5 595.9,475.4 596.4,475.8 596.9,475.5 597.4,475.1 597.9,476.1 598.4,475.6 598.9,475.5 599.4,475.4 599.9,476.0 600.4,475.7 600.9,476.2 601.4,476.0 601.9,476.5 602.4,476.0 602.9,476.0 603.4,475.6 603.9,475.9 604.4,476.6 604.9,477.4 605.4,476.0 605.9,476.1 606.4,476.6 606.9,476.7 607.4,476.3 607.9,476.6 608.4,476.1 608.9,476.6 609.4,477.0 609.9,477.3 610.4,476.7 610.9,476.7 611.4,477.0 611.9,477.3 612.4,477.1 612.9,476.7 613.4,477.1 613.9,477.4 614.4,476.9 614.8,476.7 615.3,477.3 615.8,477.3 616.3,477.6 616.8,477.3 617.3,477.1 617.8,477.2 618.3,477.0 618.8,477.1 619.3,477.3 619.8,477.3 620.3,477.9 620.8,477.1 621.3,477.6 621.8,477.4 622.3,478.2 622.8,477.8 623.3,477.6 623.8,478.1 624.3,477.8 624.8,477.7 625.3,478.4 625.8,478.2 626.3,478.5 626.8,478.4 627.3,478.3 627.8,478.1 628.3,477.7 628.8,478.3 629.3,478.2 629.8,478.4 630.3,478.2 630.8,478.0 631.3,477.9 631.8,478.5 632.3,478.8 632.8,478.3 633.3,478.6 633.8,478.9 634.3,478.2 634.8,478.4 635.3,478.1 635.8,479.0 636.3,478.7 636.8,478.5 637.3,478.1 637.8,478.6 638.3,479.1 638.8,478.6 639.3,478.6 639.8,479.0 640.3,478.4 640.8,478.9 641.3,479.1 641.8,478.6 642.3,478.7 642.8,479.1 643.3,479.0 643.8,479.0 644.3,479.1 644.8,479.2 645.3,478.8 645.8,478.9 646.3,479.3 646.8,479.6 647.3,479.7 647.8,479.0 648.3,479.7 648.8,479.6 649.3,479.3 649.8,479.5 650.3,479.7 650.8,480.0 651.3,479.1 651.8,479.7 652.3,479.4 652.8,479.4 653.3,479.9 653.8,479.8 654.3,479.2 654.8,479.5 655.3,479.7 655.8,479.2 656.3,480.0 656.8,479.7 657.3,479.8 657.8,479.9 658.3,480.4 658.8,479.8 659.3,479.7 659.8,480.4 660.3,479.7 660.8,479.7 661.3,479.4 661.8,480.3 662.3,480.0 662.8,480.1 663.3,480.0 663.8,480.0 664.3,479.8 664.8,479.8 665.3,480.2 665.8,480.1 666.3,480.7 666.8,479.9 667.3,480.0 667.8,479.8 668.3,480.7 668.8,479.8 669.3,480.5 669.8,480.8 670.3,480.3 670.8,480.6 671.3,479.6 671.8,480.3 672.3,479.9 672.8,480.5 673.3,480.5 673.7,480.3 674.2,480.9 674.7,480.7 675.2,480.4 675.7,480.5 676.2,480.2 676.7,480.6 677.2,481.5 677.7,480.5 678.2,480.9 678.7,480.6 679.2,481.1 679.7,481.0 680.2,480.8 680.7,480.3 681.2,480.8 681.7,481.4 682.2,481.0 682.7,481.3 683.2,480.9 683.7,480.5 684.2,481.3 684.7,481.3 685.2,481.0 685.7,481.1 686.2,481.4 686.7,481.1 687.2,481.4 687.7,481.3 688.2,480.6 688.7,481.4 689.2,481.2 689.7,481.2 690.2,481.6 690.7,481.3 691.2,481.7 691.7,481.9 692.2,481.6 692.7,481.1 693.2,481.4 693.7,482.0 694.2,481.6 694.7,481.4 695.2,481.7 695.7,481.9 696.2,481.9 696.7,482.0 697.2,481.5 697.7,481.8 698.2,481.8 698.7,481.9 699.2,481.2 699.7,481.8 700.2,481.5 700.7,482.5 701.2,482.5 701.7,482.6 702.2,482.3 702.7,481.9 703.2,482.4 703.7,482.0 704.2,482.3 704.7,481.8 705.2,481.9 705.7,482.3 706.2,482.8 706.7,482.2 707.2,483.0 707.7,483.2 708.2,481.8 708.7,482.2 709.2,481.9 709.7,482.2 710.2,482.1 710.7,482.3 711.2,482.6 711.7,482.6 712.2,482.4 712.7,482.3 713.2,482.4 713.7,482.4 714.2,482.6 714.7,482.4 715.2,482.5 715.7,481.9 716.2,482.7 716.7,483.0 717.2,482.5 717.7,481.9 718.2,482.9 718.7,482.3 719.2,481.4 719.7,482.4 720.2,482.7 720.7,482.6 721.2,482.9 721.7,482.7 722.2,482.5 722.7,481.8 723.2,482.1 723.7,482.6 724.2,482.7 724.7,482.2 725.2,482.3 725.7,482.7 726.2,481.9 726.7,481.9 727.2,482.5 727.7,482.7 728.2,482.4 728.7,481.8 729.2,482.6 729.7,482.2 730.2,482.9 730.7,482.6 731.2,482.7 731.7,482.9 732.2,482.5 732.7,483.0 733.2,483.1 733.7,482.9 734.2,483.2 734.7,482.5 735.2,483.1 735.7,482.9 736.2,482.5 736.7,482.8 737.2,482.6 737.7,482.7 738.2,482.9 738.7,483.3 739.2,482.8 739.7,483.0 740.2,482.4 740.7,483.0 741.2,483.4 741.7,483.3 742.2,483.2 742.7,482.8 743.2,482.7 743.7,483.0 744.2,482.6 744.7,482.7 745.2,483.4 745.7,482.8 746.2,483.8 746.7,482.7 747.2,483.3 747.7,482.8 748.2,483.3 748.7,482.9 749.2,483.3 749.7,483.2 750.2,483.1 750.7,483.5 751.2,483.8 751.7,483.1 752.2,483.7 752.7,483.4 753.2,483.4 753.7,484.2 754.2,482.7 754.7,483.2 755.2,482.8 755.7,483.3 756.2,483.4 756.7,484.8 757.2,483.6 757.7,484.1 758.2,484.0 758.7,483.4 759.2,483.7 759.7,484.1 760.2,483.6 760.7,483.6 761.2,483.8 761.7,483.1 762.2,483.3 762.7,483.7 763.2,483.8 763.7,483.3 764.2,483.5 764.7,483.6 765.2,483.6 765.7,483.9 766.2,483.7 766.7,483.8 767.2,483.2 767.7,483.4 768.2,483.9 768.7,483.2 769.2,483.9 769.7,483.5 770.2,483.5 770.7,484.0 771.2,483.6 771.7,483.5 772.2,483.6 772.7,483.9 773.2,484.8 773.7,483.1 774.2,483.9 774.7,483.8 775.2,484.2 775.7,483.8 776.2,483.0 776.7,484.4 777.2,483.6 777.7,483.9 778.2,483.5 778.7,483.6 779.2,483.8 779.7,484.3 780.2,484.3 780.7,483.9 781.2,484.3 781.7,484.0 782.1,484.2 782.6,484.3 783.1,484.5 783.6,484.1 784.1,484.4 784.6,484.6 785.1,484.6 785.6,484.4 786.0,485.4 786.5,484.7 787.0,485.3 787.5,485.2 787.9,485.7 788.4,484.6 788.9,486.2 789.4,485.5 789.9,485.3 790.3,485.9 790.8,486.8 791.3,486.4 791.7,485.9 792.2,486.4 792.6,487.3 793.0,486.6 793.5,487.2 793.9,487.5 794.3,488.6 794.7,488.1 795.0,489.0 795.4,488.6 795.8,488.9 796.1,489.9 796.5,490.1 796.8,489.6 797.2,490.8 797.5,491.2 797.9,491.1 798.2,491.8 798.5,492.2 798.8,492.3 799.1,492.7 799.5,493.0 799.8,493.6 799.9,493.4" fill="none" stroke="#ff0000" stroke-width="4.4" stroke-linejoin="round" stroke-linecap="round"/>
<path d="M1.2,589.0 1.6,588.2 2.0,588.5 2.5,588.1 2.9,587.5 3.3,588.0 3.8,588.1 4.2,587.8 4.7,586.7 5.2,587.5 5.7,587.0 6.2,586.8 6.7,586.6 7.2,586.7 7.7,587.1 8.2,586.8 8.7,586.4 9.1,586.2 9.6,586.3 10.1,586.6 10.6,587.0 11.1,586.0 11.6,586.3 12.1,586.1 12.6,586.0 13.1,586.3 13.6,586.4 14.1,585.7 14.6,585.8 15.1,586.5 15.6,586.2 16.1,586.2 16.6,585.9 17.1,585.9 17.6,586.2 18.1,585.8 18.6,585.6 19.1,586.0 19.6,586.3 20.1,585.6 20.6,586.3 21.1,586.2 21.6,585.6 22.1,585.9 22.6,585.9 23.1,586.1 23.6,586.1 24.1,585.4 24.6,585.4 25.1,586.2 25.6,585.9 26.1,586.0 26.6,586.0 27.1,586.4 27.6,585.4 28.1,586.2 28.6,585.6 29.1,586.1 29.6,586.3 30.1,585.3 30.6,586.0 31.1,585.7 31.6,585.7 32.1,585.8 32.6,585.4 33.1,585.5 33.6,586.0 34.1,586.1 34.6,585.6 35.1,585.3 35.6,586.6 36.1,586.1 36.6,585.9 37.1,585.4 37.6,585.5 38.1,585.8 38.6,585.4 39.1,586.3 39.6,585.8 40.1,585.8 40.6,585.3 41.1,585.4 41.6,585.4 42.1,585.8 42.6,585.6 43.1,585.6 43.6,585.8 44.1,585.7 44.6,586.2 45.1,585.6 45.6,585.3 46.1,585.6 46.6,586.1 47.1,585.4 47.6,585.6 48.1,585.5 48.6,585.7 49.1,585.7 49.6,585.3 50.1,585.5 50.6,585.9 51.1,585.9 51.6,585.9 52.1,585.9 52.6,585.4 53.1,585.4 53.6,585.9 54.1,585.1 54.6,585.5 55.1,584.9 55.6,585.4 56.1,585.3 56.6,585.1 57.1,585.7 57.6,585.2 58.1,585.3 58.6,585.4 59.1,585.2 59.6,585.9 60.1,585.3 60.6,585.5 61.1,585.0 61.6,585.3 62.1,585.3 62.6,585.3 63.1,585.2 63.6,585.4 64.1,585.9 64.6,585.3 65.1,585.3 65.6,585.2 66.1,586.2 66.6,585.9 67.1,585.5 67.6,585.6 68.1,585.1 68.6,585.3 69.1,585.4 69.6,585.3 70.1,585.0 70.6,585.0 71.1,585.4 71.6,585.4 72.1,584.5 72.6,585.3 73.1,585.7 73.6,585.0 74.1,585.3 74.6,584.7 75.1,585.5 75.6,584.8 76.1,584.7 76.6,585.0 77.1,586.0 77.6,584.9 78.1,584.7 78.6,585.3 79.1,585.2 79.6,585.6 80.1,584.6 80.6,584.5 81.1,584.9 81.6,585.2 82.1,585.1 82.6,585.4 83.1,584.5 83.6,584.7 84.1,584.9 84.6,585.2 85.1,585.1 85.6,584.8 86.1,584.5 86.6,585.2 87.1,585.2 87.6,585.8 88.1,584.8 88.6,585.4 89.1,584.4 89.6,584.6 90.1,584.5 90.6,584.6 91.1,584.4 91.6,584.5 92.1,584.6 92.6,584.5 93.1,584.8 93.6,584.6 94.1,584.6 94.6,585.1 95.1,584.6 95.6,584.6 96.1,584.5 96.6,584.5 97.1,584.6 97.6,584.1 98.1,584.8 98.6,584.9 99.1,584.7 99.6,584.1 100.1,583.7 100.6,584.1 101.1,584.3 101.6,584.5 102.1,584.1 102.6,584.1 103.1,584.7 103.6,583.9 104.1,584.5 104.6,584.4 105.1,583.6 105.6,584.1 106.1,583.8 106.6,583.6 107.1,583.3 107.6,583.4 108.1,584.0 108.6,583.7 109.1,583.9 109.6,583.5 110.1,583.7 110.6,583.7 111.1,583.2 111.6,583.2 112.1,583.9 112.6,583.7 113.1,583.3 113.6,583.6 114.1,583.8 114.6,584.2 115.1,583.2 115.6,583.7 116.1,584.2 116.6,583.5 117.1,583.9 117.6,582.5 118.1,583.9 118.6,583.4 119.1,582.7 119.6,583.6 120.1,583.6 120.6,583.7 121.1,583.6 121.6,583.2 122.1,582.9 122.6,583.0 123.1,583.1 123.6,583.2 124.1,582.9 124.6,583.0 125.1,583.3 125.6,583.1 126.1,583.7 126.6,583.6 127.1,582.5 127.6,582.6 128.1,582.4 128.6,582.4 129.0,582.9 129.5,582.4 130.0,582.3 130.5,582.5 131.0,582.9 131.5,582.5 132.0,582.4 132.5,582.8 133.0,582.6 133.5,582.6 134.0,582.7 134.5,582.0 135.0,582.4 135.5,582.1 136.0,582.6 136.5,582.5 137.0,581.8 137.5,582.6 138.0,581.7 138.5,582.5 139.0,582.1 139.5,581.7 140.0,581.6 140.5,581.8 141.0,581.9 141.5,581.6 142.0,582.0 142.5,581.3 143.0,581.7 143.5,581.7 144.0,581.0 144.5,581.7 145.0,581.1 145.5,580.7 146.0,581.3 146.5,581.4 147.0,581.7 147.5,581.2 148.0,581.8 148.5,581.8 149.0,581.6 149.5,581.6 150.0,581.3 150.5,580.9 151.0,581.3 151.5,581.3 152.0,581.0 152.5,580.8 153.0,580.3 153.5,581.0 154.0,580.9 154.5,580.3 155.0,580.7 155.5,580.9 156.0,580.5 156.5,580.8 157.0,580.7 157.5,579.9 158.0,580.3 158.4,580.5 158.9,580.6 159.4,580.7 159.9,579.5 160.4,580.1 160.9,580.3 161.4,580.5 161.9,580.6 162.4,579.6 162.9,579.8 163.4,579.5 163.9,580.1 164.4,579.3 164.9,580.1 165.4,580.0 165.9,579.7 166.4,578.8 166.9,579.2 167.4,579.7 167.9,578.9 168.4,579.2 168.9,579.2 169.4,579.5 169.9,579.3 170.4,579.2 170.9,578.9 171.4,579.0 171.9,578.9 172.4,579.1 172.9,578.8 173.4,579.1 173.9,578.1 174.4,579.1 174.9,578.5 175.4,578.9 175.8,578.5 176.3,578.7 176.8,578.9 177.3,578.1 177.8,578.2 178.3,578.1 178.8,578.2 179.3,577.5 179.8,577.9 180.3,577.8 180.8,577.6 181.3,577.7 181.8,577.2 182.3,578.1 182.8,577.7 183.3,578.1 183.8,577.1 184.3,576.9 184.8,577.3 185.3,576.6 185.7,577.1 186.2,576.7 186.7,576.8 187.2,576.9 187.7,576.7 188.2,577.3 188.7,576.7 189.2,576.0 189.7,576.7 190.2,575.8 190.7,576.2 191.1,575.6 191.6,575.6 192.1,576.3 192.6,575.5 193.1,575.4 193.6,575.3 194.1,575.3 194.6,575.8 195.0,574.7 195.5,574.6 196.0,575.1 196.5,574.3 197.0,574.6 197.5,575.0 198.0,574.5 198.5,574.2 198.9,574.0 199.4,573.8 199.9,573.8 200.4,573.9 200.9,574.2 201.4,574.0 201.8,573.3 202.3,573.1 202.8,573.5 203.3,572.5 203.8,572.8 204.3,572.7 204.7,572.3 205.2,572.2 205.7,572.6 206.2,571.7 206.7,571.8 207.1,571.8 207.6,571.9 208.1,571.2 208.6,571.9 209.0,571.3 209.5,571.1 210.0,570.9 210.4,570.6 210.9,570.4 211.4,570.9 211.8,570.4 212.3,570.1 212.7,570.3 213.2,569.5 213.6,569.8 214.1,569.3 214.5,568.8 215.0,569.2 215.4,568.2 215.9,568.7 216.3,567.9 216.7,568.1 217.2,568.2 217.6,567.7 218.0,567.0 218.4,566.9 218.8,566.5 219.2,566.0 219.7,565.7 220.1,565.8 220.4,565.7 220.8,564.6 221.2,564.9 221.6,564.8 222.0,564.3 222.3,563.6 222.7,564.0 223.1,562.8 223.4,563.1 223.8,563.1 224.1,561.5 224.4,561.9 224.8,561.6 225.1,561.2 225.4,560.5 225.8,560.2 226.1,559.5 226.4,559.6 226.7,559.4 227.0,558.6 227.3,558.1 227.6,557.8 227.9,557.6 228.1,557.2 228.4,556.7 228.7,556.4 229.0,555.5 229.3,554.6 229.5,555.3 229.8,555.2 230.1,553.8 230.3,553.6 230.6,553.5 230.9,553.3 231.1,552.8 231.4,552.6 231.6,551.7 231.9,551.4 232.2,551.0 232.4,550.3 232.7,550.4 232.9,549.8 233.2,549.5 233.5,548.6 233.7,548.7 234.0,547.5 234.2,547.6 234.5,546.1 234.8,546.3 235.0,546.4 235.3,545.6 235.6,545.4 235.8,544.4 236.1,545.0 236.4,544.3 236.7,543.6 236.9,543.4 237.2,542.9 237.5,542.9 237.7,542.0 238.0,541.0 238.3,541.0 238.6,541.1 238.8,540.5 239.1,539.7 239.4,539.7 239.6,539.1 239.9,538.8 240.2,537.7 240.5,537.5 240.7,537.6 241.0,536.9 241.3,536.6 241.6,536.8 241.8,535.6 242.1,535.4 242.4,534.7 242.7,534.2 243.0,534.0 243.2,533.1 243.5,532.5 243.8,533.3 244.1,532.3 244.4,532.4 244.7,531.6 244.9,531.2 245.2,531.0 245.5,530.6 245.8,529.5 246.1,529.9 246.4,528.8 246.7,528.8 246.9,529.2 247.2,527.9 247.5,528.0 247.8,526.9 248.1,526.9 248.4,526.3 248.7,526.0 249.0,525.1 249.2,524.7 249.5,524.7 249.8,523.6 250.1,523.5 250.4,523.6 250.6,522.7 250.9,522.2 251.2,521.7 251.5,521.7 251.7,521.2 252.0,520.9 252.3,520.4 252.6,520.7 252.8,519.5 253.1,518.5 253.4,518.8 253.6,518.4 253.9,518.0 254.2,517.0 254.5,517.5 254.8,516.7 255.1,516.3 255.4,515.4 255.7,515.7 256.0,515.2 256.3,515.3 256.6,514.3 256.9,513.7 257.3,513.8 257.6,513.1 258.0,513.2 258.3,512.4 258.7,512.4 259.1,512.1 259.5,511.9 259.9,511.4 260.2,511.1 260.7,511.1 261.1,510.7 261.5,510.7 261.9,510.4 262.3,509.5 262.8,510.1 263.2,510.4 263.7,509.9 264.1,509.9 264.6,509.7 265.0,509.3 265.5,508.9 266.0,509.6 266.4,509.6 266.9,509.4 267.4,509.4 267.8,509.4 268.3,509.3 268.8,509.4 269.2,509.4 269.7,509.6 270.2,509.2 270.6,509.4 271.1,510.0 271.6,509.8 272.0,509.2 272.5,510.2 272.9,509.6 273.4,511.2 273.8,511.0 274.2,511.2 274.7,511.0 275.1,511.0 275.5,511.6 276.0,511.9 276.4,511.9 276.8,512.4 277.2,512.9 277.6,513.1 278.1,512.9 278.5,512.8 278.9,513.8 279.3,513.9 279.7,514.5 280.0,515.2 280.4,515.5 280.8,515.4 281.2,516.0 281.6,516.5 282.0,516.3 282.3,516.7 282.7,517.2 283.1,517.3 283.4,517.5 283.8,517.7 284.1,518.3 284.5,518.4 284.9,519.3 285.2,519.2 285.6,520.2 285.9,520.5 286.3,520.0 286.6,521.1 287.0,521.0 287.3,522.0 287.7,522.0 288.0,522.2 288.4,522.8 288.7,522.8 289.0,523.4 289.4,523.8 289.7,524.0 290.1,524.5 290.4,524.4 290.8,525.3 291.1,525.1 291.5,526.0 291.8,526.3 292.2,526.8 292.5,526.7 292.8,528.3 293.2,527.6 293.5,528.0 293.9,528.1 294.2,529.2 294.6,528.9 294.9,529.7 295.3,529.5 295.6,530.2 296.0,530.4 296.4,531.1 296.7,531.1 297.1,531.2 297.4,532.0 297.8,531.8 298.1,532.3 298.5,533.2 298.9,532.6 299.2,533.9 299.6,533.8 300.0,534.0 300.3,534.7 300.7,535.1 301.1,535.1 301.5,535.5 301.9,536.2 302.3,536.5 302.6,536.5 303.0,536.6 303.4,536.8 303.8,537.2 304.2,538.0 304.6,538.2 305.0,538.4 305.4,539.0 305.9,538.8 306.3,539.0 306.7,539.3 307.1,540.3 307.5,539.2 308.0,540.3 308.4,540.6 308.8,540.7 309.3,541.7 309.7,541.5 310.1,541.6 310.6,541.3 311.0,542.0 311.5,541.9 311.9,542.3 312.4,542.6 312.8,542.6 313.3,543.1 313.7,543.7 314.2,543.7 314.6,543.6 315.1,543.1 315.5,544.3 316.0,544.5 316.4,544.3 316.9,544.3 317.4,544.9 317.8,544.6 318.3,545.3 318.7,544.8 319.2,545.1 319.7,545.5 320.1,545.2 320.6,545.8 321.1,546.1 321.6,545.6 322.0,546.5 322.5,546.1 323.0,546.5 323.5,546.5 324.0,546.4 324.5,546.4 324.9,546.1 325.4,546.5 325.9,546.5 326.4,547.3 326.9,547.1 327.4,546.4 327.9,547.1 328.4,546.9 328.9,546.7 329.4,547.0 329.9,547.1 330.4,546.6 330.9,546.7 331.3,546.8 331.8,546.3 332.3,546.7 332.8,546.5 333.3,546.2 333.8,546.1 334.3,546.4 334.8,546.5 335.3,546.2 335.7,545.7 336.2,546.1 336.7,545.8 337.2,545.8 337.6,545.9 338.1,545.1 338.6,545.2 339.0,544.8 339.5,544.6 340.0,545.3 340.4,544.8 340.9,543.7 341.3,544.2 341.8,543.7 342.2,544.1 342.7,543.5 343.1,543.2 343.5,543.0 343.9,542.9 344.4,542.5 344.8,542.2 345.2,541.9 345.6,541.9 346.0,541.0 346.4,541.1 346.8,540.8 347.2,540.4 347.6,540.4 347.9,539.5 348.3,539.4 348.7,538.9 349.0,539.1 349.4,538.4 349.8,538.2 350.1,538.0 350.4,537.0 350.8,537.3 351.1,536.5 351.4,536.3 351.8,536.0 352.1,535.9 352.4,535.5 352.7,535.4 353.0,534.5 353.3,533.9 353.6,533.5 354.0,533.5 354.3,533.4 354.6,532.6 354.9,531.9 355.2,531.8 355.5,531.4 355.8,530.9 356.1,530.3 356.3,529.3 356.6,529.5 356.9,529.6 357.2,529.0 357.5,527.8 357.8,528.1 358.1,527.1 358.4,527.9 358.6,526.9 358.9,526.0 359.2,526.3 359.4,525.3 359.7,525.3 360.0,524.7 360.2,523.9 360.5,524.1 360.7,523.0 361.0,523.5 361.2,522.6 361.5,521.8 361.7,521.1 362.0,521.8 362.2,521.3 362.4,520.0 362.7,520.5 362.9,519.6 363.1,519.0 363.3,518.6 363.5,518.1 363.7,518.2 364.0,517.3 364.2,516.2 364.4,517.0 364.6,516.2 364.8,515.1 365.0,514.9 365.2,514.2 365.3,514.1 365.5,513.7 365.7,513.2 365.9,512.5 366.1,511.9 366.3,512.0 366.4,511.2 366.6,511.5 366.8,510.1 367.0,510.1 367.1,509.4 367.3,508.7 367.5,508.9 367.6,508.0 367.8,507.2 368.0,506.9 368.1,506.9 368.3,505.7 368.4,506.1 368.6,505.4 368.7,504.6 368.9,504.6 369.0,504.3 369.2,503.4 369.3,502.8 369.5,502.9 369.6,502.3 369.7,501.0 369.9,500.8 370.0,500.3 370.1,499.7 370.3,498.9 370.4,499.2 370.5,498.4 370.7,498.0 370.8,497.9 370.9,496.8 371.1,496.5 371.2,496.1 371.3,495.4 371.4,495.0 371.6,494.8 371.7,494.1 371.8,494.0 371.9,492.9 372.1,492.7 372.2,491.7 372.3,491.6 372.4,490.9 372.6,491.1 372.7,490.4 372.8,489.9 372.9,489.8 373.0,489.2 373.2,488.5 373.3,487.5 373.4,486.8 373.5,486.8 373.6,486.2 373.7,485.6 373.9,485.2 374.0,484.3 374.1,484.9 374.2,483.5 374.3,483.2 374.4,483.1 374.5,481.9 374.6,482.2 374.7,481.7 374.8,480.8 374.9,480.1 375.0,479.8 375.0,478.9 375.1,479.4 375.2,478.5 375.3,477.7 375.3,477.2 375.4,477.2 375.5,477.0 375.6,475.6 375.6,475.3 375.7,474.4 375.7,474.7 375.8,474.1 375.9,474.3 375.9,473.0 376.0,472.4 376.0,471.8 376.1,471.8 376.1,470.5 376.2,470.8 376.2,470.1 376.3,469.4 376.3,468.8 376.4,468.9 376.4,468.7 376.4,467.4 376.5,467.2 376.5,467.1 376.6,465.9 376.6,465.5 376.7,464.7 376.7,464.5 376.7,464.0 376.8,463.4 376.8,462.8 376.9,462.1 376.9,461.6 377.0,461.3 377.0,461.3 377.1,460.4 377.1,459.8 377.2,459.8 377.2,459.3 377.3,458.4 377.3,457.9 377.4,457.8 377.4,457.2 377.5,456.3 377.6,456.2 377.6,455.6 377.7,455.5 377.7,454.3 377.8,454.4 377.9,453.8 377.9,452.8 378.0,453.0 378.1,452.5 378.1,451.2 378.2,451.8 378.3,450.3 378.4,449.9 378.4,449.6 378.5,449.4 378.6,448.9 378.6,448.2 378.7,448.2 378.8,447.3 378.9,447.2 378.9,447.2 379.0,445.8 379.1,444.4 379.2,444.6 379.2,443.9 379.3,443.8 379.4,443.3 379.5,442.3 379.5,441.9 379.6,441.7 379.7,441.2 379.8,439.9 379.8,440.6 379.9,439.8 380.0,439.3 380.1,438.9 380.2,438.0 380.2,437.8 380.3,437.7 380.4,437.2 380.5,436.5 380.6,435.7 380.6,435.1 380.7,435.3 380.8,434.5 380.9,433.7 381.0,432.6 381.1,432.6 381.2,431.7 381.2,432.3 381.3,431.5 381.4,430.7 381.5,430.3 381.6,430.8 381.7,429.9 381.8,428.5 381.9,428.4 382.0,427.5 382.1,426.9 382.2,427.0 382.2,427.3 382.3,426.5 382.4,425.5 382.5,424.9 382.6,424.6 382.7,424.4 382.8,423.1 382.9,422.4 383.0,423.2 383.1,422.2 383.3,422.2 383.4,421.2 383.5,421.1 383.6,419.9 383.7,419.8 383.8,419.7 383.9,419.0 384.0,418.0 384.1,418.0 384.3,417.0 384.4,416.2 384.5,416.4 384.6,416.2 384.7,415.6 384.8,414.4 384.9,414.6 385.1,414.1 385.2,413.2 385.3,412.0 385.4,412.7 385.5,412.2 385.6,411.6 385.7,410.3 385.8,409.9 385.9,410.3 386.1,409.7 386.2,409.1 386.3,408.4 386.4,408.1 386.5,407.3 386.6,406.9 386.7,406.2 386.8,406.1 386.9,405.4 387.0,405.4 387.1,404.8 387.2,403.8 387.3,404.2 387.4,402.7 387.5,402.7 387.6,402.5 387.7,402.0 387.8,400.3 387.9,401.0 388.0,400.6 388.1,400.1 388.2,398.4 388.3,398.4 388.3,398.1 388.4,397.5 388.5,397.7 388.6,396.5 388.7,396.6 388.8,395.9 388.9,394.7 389.0,394.4 389.1,394.1 389.2,393.8 389.3,393.6 389.4,392.7 389.5,392.6 389.7,391.3 389.8,390.3 389.9,390.7 390.0,390.5 390.1,389.7 390.3,389.0 390.4,389.1 390.5,389.1 390.7,387.9 390.9,387.3 391.1,386.8 391.4,387.3 391.7,386.3 392.1,386.3 392.5,386.4 392.9,386.6 393.3,386.2 393.6,387.2 393.8,387.6 394.1,387.9 394.4,388.5 394.6,388.4 394.8,389.0 395.1,389.3 395.3,390.2 395.4,390.2 395.6,391.0 395.8,390.9 396.0,391.7 396.3,392.0 396.6,392.2 396.8,392.2 397.0,391.7 397.1,391.3 397.2,390.1 397.3,390.7 397.4,389.6 397.5,389.3 397.6,388.6 397.7,388.7 397.7,387.6 397.8,387.6 397.9,387.3 398.0,387.0 398.2,386.3 398.3,385.7 398.4,384.5 398.5,384.9 398.7,384.4 398.8,383.8 398.9,383.3 398.9,382.6 399.0,381.9 399.0,381.9 399.1,381.5 399.1,380.2 399.2,380.4 399.2,379.6 399.2,379.4 399.3,378.6 399.3,378.4 399.3,377.9 399.4,377.4 399.4,376.1 399.4,376.3 399.5,375.6 399.5,374.7 399.6,374.8 399.6,373.6 399.7,374.1 399.8,374.3 400.0,373.7 400.0,374.6 400.1,374.9 400.2,375.5 400.2,375.3 400.3,376.5 400.3,376.8 400.3,377.5 400.4,377.8 400.4,378.6 400.5,378.9 400.5,379.5 400.5,380.2 400.6,380.3 400.6,381.1 400.7,381.3 400.7,381.9 400.7,382.1 400.8,383.0 400.8,383.7 400.9,383.7 400.9,384.5 401.0,384.9 401.0,384.9 401.0,385.9 401.1,386.7 401.1,386.6 401.2,386.6 401.2,387.8 401.2,388.0 401.3,389.4 401.3,389.2 401.3,389.7 401.4,390.0 401.4,390.8 401.5,391.0 401.5,391.4 401.6,392.2 401.6,392.4 401.7,393.7 401.7,393.3 401.8,394.2 401.8,394.5 401.9,394.7 401.9,396.3 402.0,395.5 402.0,397.2 402.1,396.7 402.2,397.7 402.2,399.0 402.3,397.9 402.4,398.7 402.4,400.1 402.5,400.2 402.6,400.5 402.6,401.1 402.7,401.3 402.8,402.2 402.8,403.1 402.9,403.0 403.0,403.7 403.0,404.5 403.1,405.3 403.2,404.9 403.3,405.7 403.3,405.9 403.4,406.4 403.5,407.0 403.5,407.4 403.6,407.5 403.6,407.9 403.7,408.8 403.8,409.6 403.8,410.5 403.9,410.4 403.9,411.0 404.0,411.8 404.0,412.3 404.0,412.5 404.1,413.0 404.1,414.2 404.1,413.9 404.2,414.4 404.2,414.5 404.3,415.7 404.3,416.0 404.3,417.2 404.4,416.9 404.4,417.8 404.5,418.4 404.5,419.1 404.6,418.6 404.6,420.1 404.7,420.0 404.7,420.5 404.8,420.9 404.8,421.4 404.9,421.9 405.0,421.7 405.0,423.2 405.1,423.5 405.2,423.7 405.2,424.5 405.3,425.8 405.4,425.6 405.4,425.9 405.5,427.1 405.6,426.7 405.6,427.4 405.7,427.8 405.8,428.4 405.9,429.2 405.9,429.6 406.0,429.7 406.1,430.4 406.2,431.0 406.2,431.3 406.3,431.9 406.4,432.2 406.5,432.7 406.5,433.4 406.6,433.5 406.7,434.5 406.8,434.8 406.8,435.1 406.9,435.7 407.0,436.2 407.1,436.8 407.1,437.4 407.2,437.8 407.3,438.0 407.4,439.3 407.5,439.6 407.5,439.9 407.6,440.6 407.7,440.9 407.8,441.2 407.9,441.8 408.0,443.2 408.1,443.1 408.1,443.6 408.2,443.6 408.3,444.5 408.4,445.5 408.5,445.4 408.6,446.1 408.7,446.6 408.8,446.9 408.9,447.7 409.0,447.8 409.1,448.3 409.2,448.5 409.3,450.1 409.4,449.8 409.5,450.2 409.6,451.1 409.7,451.0 409.8,451.6 409.9,451.8 410.0,452.6 410.1,452.9 410.2,453.8 410.3,454.0 410.4,454.3 410.5,454.9 410.6,455.5 410.7,455.8 410.8,456.8 410.9,457.2 411.0,457.5 411.1,457.6 411.2,458.6 411.2,458.5 411.3,459.5 411.4,460.0 411.5,460.2 411.6,460.6 411.7,461.2 411.8,462.6 411.9,462.3 412.0,462.8 412.1,463.7 412.2,464.0 412.3,464.7 412.4,464.4 412.5,465.0 412.6,467.0 412.7,466.3 412.8,466.7 412.9,467.3 413.0,468.1 413.1,467.9 413.2,468.9 413.4,469.2 413.5,470.0 413.6,470.3 413.7,470.5 413.8,470.9 413.9,470.9 414.0,472.5 414.2,472.2 414.3,473.0 414.4,474.2 414.5,474.0 414.6,474.8 414.8,475.0 414.9,475.8 415.0,476.0 415.2,476.3 415.3,477.5 415.4,477.4 415.6,477.5 415.7,478.3 415.8,479.1 416.0,479.0 416.1,480.1 416.3,480.6 416.4,481.6 416.6,481.1 416.7,482.0 416.9,481.7 417.0,482.6 417.2,483.3 417.3,483.8 417.5,484.2 417.6,484.6 417.8,484.9 418.0,485.4 418.1,486.2 418.3,486.7 418.4,487.2 418.6,487.8 418.8,488.3 419.0,487.8 419.1,488.7 419.3,489.3 419.5,489.6 419.7,490.6 419.9,491.0 420.0,491.2 420.2,491.7 420.4,492.6 420.6,492.5 420.8,493.0 421.0,493.8 421.2,494.1 421.4,494.9 421.6,495.0 421.8,495.6 422.0,495.6 422.2,496.0 422.4,496.7 422.6,496.3 422.8,497.8 423.0,498.4 423.2,498.6 423.4,498.9 423.6,499.8 423.8,499.9 424.0,500.7 424.3,501.5 424.5,501.5 424.7,502.0 424.9,502.3 425.2,502.7 425.4,503.1 425.6,503.5 425.9,504.3 426.1,503.8 426.4,504.7 426.6,505.4 426.9,505.4 427.1,506.0 427.4,506.3 427.6,507.1 427.9,507.6 428.2,508.3 428.4,508.4 428.7,508.4 429.0,509.1 429.3,509.6 429.5,510.3 429.8,509.5 430.1,510.8 430.4,510.4 430.7,511.7 431.0,512.0 431.3,512.4 431.6,512.9 431.9,513.2 432.2,513.2 432.6,513.9 432.9,514.6 433.2,514.5 433.5,515.0 433.8,514.9 434.2,516.1 434.5,515.9 434.8,516.2 435.1,516.7 435.5,517.0 435.8,517.5 436.1,518.4 436.4,518.6 436.8,519.2 437.1,519.6 437.4,519.2 437.8,520.0 438.1,520.8 438.4,521.4 438.8,520.5 439.1,520.9 439.4,521.9 439.8,522.0 440.1,522.1 440.4,523.0 440.8,523.0 441.1,522.8 441.5,523.9 441.8,524.3 442.1,524.9 442.5,525.3 442.8,525.4 443.2,525.7 443.5,525.9 443.9,525.9 444.2,526.7 444.6,527.5 445.0,527.7 445.3,528.6 445.7,528.2 446.0,528.0 446.4,529.2 446.7,529.6 447.1,529.2 447.5,529.4 447.8,530.3 448.2,530.9 448.6,530.6 448.9,531.2 449.3,531.4 449.7,531.6 450.0,531.9 450.4,532.7 450.8,532.9 451.1,533.1 451.5,532.8 451.9,534.6 452.3,534.0 452.6,534.6 453.0,534.6 453.4,535.4 453.8,535.1 454.1,536.0 454.5,536.2 454.9,536.9 455.3,536.5 455.7,537.0 456.1,537.5 456.5,538.5 456.9,537.6 457.3,538.5 457.7,538.5 458.1,539.1 458.5,539.5 458.9,539.7 459.3,540.0 459.7,540.3 460.1,540.2 460.5,540.6 460.9,540.4 461.4,541.1 461.8,541.3 462.2,541.7 462.6,542.3 463.0,542.5 463.5,542.8 463.9,543.2 464.3,542.3 464.7,543.5 465.1,543.7 465.6,543.9 466.0,543.8 466.4,544.7 466.8,545.1 467.2,545.3 467.7,545.2 468.1,545.8 468.5,546.1 468.9,546.7 469.4,546.7 469.8,546.6 470.2,546.9 470.6,547.2 471.1,547.4 471.5,547.5 471.9,548.1 472.3,547.9 472.8,548.1 473.2,548.7 473.7,548.7 474.1,549.0 474.5,548.6 475.0,549.8 475.4,549.8 475.9,550.0 476.3,550.4 476.7,550.6 477.2,550.5 477.6,551.6 478.1,551.0 478.5,551.7 479.0,552.2 479.4,551.6 479.9,552.1 480.3,552.0 480.8,552.9 481.2,552.6 481.7,552.6 482.1,553.6 482.6,553.7 483.0,553.3 483.5,554.2 483.9,554.1 484.4,555.2 484.8,555.0 485.3,554.5 485.7,554.8 486.2,554.8 486.6,555.3 487.1,555.5 487.5,556.0 488.0,556.0 488.4,555.6 488.9,556.1 489.4,557.0 489.8,557.1 490.3,556.8 490.7,557.0 491.2,557.2 491.7,557.5 492.1,557.1 492.6,558.1 493.1,557.8 493.5,558.2 494.0,557.5 494.5,558.6 495.0,559.1 495.4,558.1 495.9,559.5 496.4,559.3 496.9,559.0 497.3,558.9 497.8,559.9 498.3,559.8 498.8,560.0 499.2,559.9 499.7,559.8 500.2,560.5 500.7,560.0 501.2,560.8 501.7,560.1 502.1,560.4 502.6,560.4 503.1,561.4 503.6,560.5 504.1,560.9 504.6,561.6 505.1,561.5 505.5,562.3 506.0,562.3 506.5,562.0 507.0,562.2 507.5,561.4 508.0,561.9 508.5,562.1 509.0,562.3 509.4,562.0 509.9,562.3 510.4,562.4 510.9,563.1 511.4,563.0 511.9,562.9 512.4,563.0 512.9,563.3 513.4,563.1 513.8,563.3 514.3,562.9 514.8,563.8 515.3,564.0 515.8,563.9 516.3,564.0 516.8,564.1 517.3,564.7 517.8,564.2 518.3,563.8 518.8,564.0 519.2,564.6 519.7,564.8 520.2,564.8 520.7,564.9 521.2,564.8 521.7,564.3 522.2,564.7 522.7,564.4 523.2,564.9 523.7,564.7 524.2,565.3 524.7,565.3 525.2,564.7 525.7,565.7 526.2,565.8 526.6,565.2 527.1,565.7 527.6,566.0 528.1,565.8 528.6,566.2 529.1,566.1 529.6,566.4 530.1,566.2 530.6,566.2 531.1,566.5 531.6,566.6 532.1,566.5 532.6,566.4 533.1,566.3 533.6,566.5 534.1,566.5 534.6,566.9 535.1,566.9 535.5,566.9 536.0,567.0 536.5,567.2 537.0,567.7 537.5,567.6 538.0,567.1 538.5,567.5 539.0,567.3 539.5,567.5 540.0,567.5 540.5,567.5 541.0,567.3 541.5,567.0 542.0,567.9 542.5,568.3 543.0,567.7 543.5,568.3 544.0,568.0 544.5,568.3 545.0,568.0 545.4,568.3 545.9,568.4 546.4,567.7 546.9,568.6 547.4,568.6 547.9,567.9 548.4,569.0 548.9,568.8 549.4,569.0 549.9,569.1 550.4,568.9 550.9,568.7 551.4,569.0 551.9,569.1 552.4,570.0 552.9,570.0 553.4,569.2 553.9,569.3 554.4,569.6 554.9,569.8 555.4,569.4 555.9,569.4 556.4,570.4 556.9,570.2 557.3,569.4 557.8,569.4 558.3,569.7 558.8,570.2 559.3,570.3 559.8,570.1 560.3,569.7 560.8,570.4 561.3,570.6 561.8,570.4 562.3,570.3 562.8,570.7 563.3,570.6 563.8,570.3 564.3,570.7 564.8,570.3 565.3,571.1 565.8,571.0 566.3,570.6 566.8,571.0 567.3,571.4 567.8,570.3 568.3,571.1 568.8,571.7 569.3,570.7 569.8,571.2 570.3,570.8 570.8,571.3 571.3,570.6 571.8,570.9 572.3,571.3 572.8,571.6 573.3,571.7 573.8,571.8 574.3,572.1 574.8,571.9 575.3,572.0 575.7,571.5 576.2,571.8 576.7,573.0 577.2,572.7 577.7,572.3 578.2,572.3 578.7,572.4 579.2,572.0 579.7,572.8 580.2,572.1 580.7,572.2 581.2,573.0 581.7,571.6 582.2,572.5 582.7,571.8 583.2,572.2 583.7,572.4 584.2,572.4 584.7,572.6 585.2,572.3 585.7,572.6 586.2,572.3 586.7,572.6 587.2,572.3 587.7,573.0 588.2,572.4 588.7,573.1 589.2,572.8 589.7,572.9 590.2,573.4 590.7,573.1 591.2,572.5 591.7,573.3 592.2,572.2 592.7,573.3 593.2,573.2 593.7,572.9 594.2,573.4 594.7,573.3 595.2,574.2 595.7,573.4 596.2,574.2 596.7,574.1 597.2,573.5 597.7,573.4 598.2,574.2 598.7,573.8 599.2,573.9 599.7,573.8 600.2,573.5 600.7,573.9 601.1,573.7 601.6,573.5 602.1,574.0 602.6,574.8 603.1,574.8 603.6,574.2 604.1,574.3 604.6,574.5 605.1,574.8 605.6,574.5 606.1,574.2 606.6,574.3 607.1,574.9 607.6,575.4 608.1,574.3 608.6,573.8 609.1,574.9 609.6,574.6 610.1,574.7 610.6,575.1 611.1,574.7 611.6,574.2 612.1,574.0 612.6,574.7 613.1,574.4 613.6,574.9 614.1,574.3 614.6,574.7 615.1,574.3 615.6,574.7 616.1,574.7 616.6,575.1 617.1,575.3 617.6,574.8 618.1,574.6 618.6,575.6 619.1,575.1 619.6,575.2 620.1,575.2 620.6,575.5 621.1,575.3 621.6,575.2 622.1,575.3 622.6,574.7 623.1,574.8 623.6,575.0 624.1,575.1 624.6,575.1 625.1,575.2 625.6,575.1 626.1,575.0 626.6,574.5 627.1,575.4 627.6,575.3 628.1,574.9 628.6,575.3 629.1,575.3 629.6,575.2 630.1,574.6 630.6,574.8 631.1,575.0 631.6,575.8 632.1,575.0 632.6,575.2 633.1,574.9 633.6,575.2 634.1,575.5 634.6,574.7 635.1,574.4 635.6,575.7 636.1,575.5 636.6,575.3 637.1,575.8 637.6,575.8 638.1,574.8 638.6,575.5 639.1,576.0 639.6,575.4 640.1,575.5 640.6,576.0 641.1,575.6 641.6,575.3 642.1,575.5 642.6,575.3 643.1,576.0 643.6,575.2 644.1,576.2 644.6,575.3 645.1,575.9 645.6,575.4 646.1,575.8 646.6,576.3 647.1,576.3 647.6,576.4 648.1,576.0 648.6,576.1 649.1,576.1 649.6,576.3 650.1,575.9 650.6,576.5 651.1,576.2 651.6,576.6 652.1,576.3 652.6,576.4 653.1,576.0 653.6,576.1 654.1,575.8 654.6,576.2 655.1,576.3 655.6,576.6 656.1,575.9 656.6,577.5 657.1,576.4 657.6,576.9 658.1,576.8 658.6,575.6 659.1,576.4 659.6,577.0 660.1,575.7 660.6,576.8 661.1,576.3 661.6,576.4 662.1,576.7 662.6,576.0 663.1,576.7 663.6,576.5 664.1,576.5 664.6,577.0 665.1,578.0 665.6,576.9 666.1,577.0 666.6,576.8 667.1,576.6 667.6,577.0 668.1,577.4 668.6,577.0 669.1,577.3 669.6,576.9 670.1,577.9 670.6,576.5 671.1,577.3 671.6,577.3 672.1,577.2 672.6,576.8 673.1,576.8 673.6,577.1 674.1,577.3 674.6,576.8 675.1,576.9 675.6,577.5 676.1,577.7 676.6,577.2 677.1,577.2 677.6,577.2 678.1,578.3 678.6,577.7 679.1,577.5 679.6,577.9 680.1,578.4 680.6,578.0 681.1,577.2 681.6,577.7 682.1,577.6 682.6,577.6 683.1,577.4 683.6,577.7 684.0,577.5 684.5,578.0 685.0,577.9 685.5,577.4 686.0,577.4 686.5,577.8 687.0,578.2 687.5,578.2 688.0,578.0 688.5,576.9 689.0,577.9 689.5,577.9 690.0,578.0 690.5,577.8 691.0,578.1 691.5,578.0 692.0,579.2 692.5,578.5 693.0,578.2 693.5,578.3 694.0,578.3 694.5,578.4 695.0,578.2 695.5,578.4 696.0,578.8 696.5,578.7 697.0,578.6 697.5,579.0 698.0,578.6 698.5,578.2 699.0,577.9 699.5,578.3 700.0,578.6 700.5,578.7 701.0,579.0 701.5,578.4 702.0,578.4 702.5,578.9 703.0,579.1 703.5,578.5 704.0,578.8 704.5,579.2 705.0,578.9 705.5,578.7 706.0,578.0 706.5,579.2 707.0,579.0 707.5,578.9 708.0,578.7 708.5,578.4 709.0,578.8 709.5,578.8 710.0,579.3 710.5,578.5 711.0,579.4 711.5,578.9 712.0,579.3 712.5,578.6 713.0,579.1 713.5,579.4 714.0,579.0 714.5,578.4 715.0,578.8 715.5,579.2 716.0,578.5 716.5,578.5 717.0,579.1 717.5,578.7 718.0,579.3 718.5,578.6 719.0,578.4 719.5,578.8 720.0,579.6 720.5,578.7 721.0,579.1 721.5,579.1 722.0,578.7 722.5,579.5 723.0,579.1 723.5,579.2 724.0,578.5 724.5,578.5 725.0,578.1 725.5,579.1 726.0,579.0 726.5,579.4 727.0,579.7 727.5,579.1 728.0,579.1 728.5,579.3 729.0,579.7 729.5,578.9 730.0,579.4 730.5,579.1 731.0,579.1 731.5,579.5 732.0,579.0 732.5,578.9 733.0,579.5 733.5,579.3 734.0,579.2 734.5,579.2 735.0,579.5 735.5,579.2 736.0,579.6 736.5,579.5 737.0,579.9 737.5,579.8 738.0,579.7 738.5,579.3 739.0,579.4 739.5,579.2 740.0,580.4 740.5,579.4 741.0,579.6 741.5,579.9 742.0,579.0 742.5,579.2 743.0,579.4 743.5,579.2 744.0,579.1 744.5,579.4 745.0,580.0 745.5,579.8 746.0,579.6 746.5,579.6 747.0,579.0 747.5,579.9 748.0,579.8 748.5,579.3 749.0,579.7 749.5,579.6 750.0,579.5 750.5,579.4 751.0,579.5 751.5,579.4 752.0,579.9 752.5,579.9 753.0,579.9 753.5,579.7 754.0,579.6 754.5,580.5 755.0,579.2 755.5,580.2 756.0,580.0 756.5,579.9 757.0,579.7 757.5,579.8 758.0,579.5 758.5,579.4 759.0,579.9 759.5,579.3 760.0,580.2 760.5,580.3 761.0,578.8 761.5,579.4 762.0,580.1 762.5,580.1 763.0,580.1 763.5,580.2 764.0,580.3 764.5,580.4 765.0,580.7 765.5,580.1 766.0,580.4 766.5,579.5 767.0,580.1 767.5,579.7 768.0,580.6 768.5,581.0 769.0,580.3 769.5,579.7 770.0,580.1 770.5,580.2 771.0,580.3 771.5,580.6 772.0,580.6 772.5,579.3 773.0,580.7 773.5,580.1 774.0,580.1 774.5,580.8 775.0,580.2 775.5,579.8 776.0,579.9 776.5,580.4 777.0,580.7 777.5,580.9 778.0,580.3 778.5,580.3 779.0,581.0 779.5,580.3 780.0,581.0 780.5,580.6 781.0,580.7 781.5,580.5 782.0,580.8 782.5,580.6 783.0,580.6 783.4,580.8 783.9,580.7 784.4,581.1 784.9,581.1 785.4,581.1 785.8,581.3 786.3,581.4 786.8,582.2 787.3,581.7 787.7,581.7 788.2,581.9 788.7,582.3 789.1,582.2 789.6,582.3 790.1,582.4 790.5,582.8 791.0,583.0 791.4,583.3 791.9,582.8 792.3,583.2 792.7,582.9 793.2,584.4 793.6,584.8 794.0,585.1 794.4,585.0 794.7,585.7 795.1,585.6 795.5,586.0 795.8,585.8 796.2,586.4 796.5,586.8 796.9,587.7 797.2,588.3 797.6,588.0 797.9,588.6 798.3,589.0 798.6,589.0 798.9,589.0 799.2,589.7 799.5,589.9 799.8,590.7 800.0,590.9" fill="none" stroke="#000000" stroke-width="4.4" stroke-linejoin="round" stroke-linecap="round"/>
<line x1="49.9" y1="586.8" x2="49.9" y2="593" stroke="#000" stroke-width="2.1"/>
<line x1="100.1" y1="581.3" x2="100.1" y2="593" stroke="#000" stroke-width="2.1"/>
<line x1="150.2" y1="586.8" x2="150.2" y2="593" stroke="#000" stroke-width="2.1"/>
<line x1="200.4" y1="581.3" x2="200.4" y2="593" stroke="#000" stroke-width="2.1"/>
<line x1="250.6" y1="586.8" x2="250.6" y2="593" stroke="#000" stroke-width="2.1"/>
<line x1="300.8" y1="581.3" x2="300.8" y2="593" stroke="#000" stroke-width="2.1"/>
<line x1="350.9" y1="586.8" x2="350.9" y2="593" stroke="#000" stroke-width="2.1"/>
<line x1="401.1" y1="581.3" x2="401.1" y2="593" stroke="#000" stroke-width="2.1"/>
<line x1="451.3" y1="586.8" x2="451.3" y2="593" stroke="#000" stroke-width="2.1"/>
<line x1="501.5" y1="581.3" x2="501.5" y2="593" stroke="#000" stroke-width="2.1"/>
<line x1="551.6" y1="586.8" x2="551.6" y2="593" stroke="#000" stroke-width="2.1"/>
<line x1="601.8" y1="581.3" x2="601.8" y2="593" stroke="#000" stroke-width="2.1"/>
<line x1="652.0" y1="586.8" x2="652.0" y2="593" stroke="#000" stroke-width="2.1"/>
<line x1="702.2" y1="581.3" x2="702.2" y2="593" stroke="#000" stroke-width="2.1"/>
<line x1="752.3" y1="586.8" x2="752.3" y2="593" stroke="#000" stroke-width="2.1"/>
<rect x="1.1" y="1" width="799.8" height="592" fill="none" stroke="#000" stroke-width="2.2"/>
<text x="100.1" y="630.3" text-anchor="middle" class="tl">150</text>
<text x="200.4" y="630.3" text-anchor="middle" class="tl">100</text>
<text x="300.8" y="630.3" text-anchor="middle" class="tl">50</text>
<text x="401.1" y="630.3" text-anchor="middle" class="tl">0</text>
<text x="501.5" y="630.3" text-anchor="middle" class="tl">-50</text>
<text x="601.8" y="630.3" text-anchor="middle" class="tl">-100</text>
<text x="702.2" y="630.3" text-anchor="middle" class="tl">-150</text>
<text x="687" y="268" class="big">115°C</text>
<text x="687" y="372" class="big">105°C</text>
<text x="688.5" y="465.6" class="big">95°C</text>
<text x="692.5" y="558.5" class="big">85°C</text>
<text transform="translate(280.5,215.6) rotate(-90)" class="big">65.5</text>
<text transform="translate(381,121.4) rotate(-90)" class="big">3.8</text>
<text transform="translate(414.7,64.8) rotate(-90)" class="big">0.4</text>
<text transform="translate(282.1,502.7) rotate(-90)" class="big">67.4</text>
<text y="688.8" class="ax"><tspan x="341.3">δ</tspan><tspan x="366.5">(ppm)</tspan></text>
</svg>
</body></html>
